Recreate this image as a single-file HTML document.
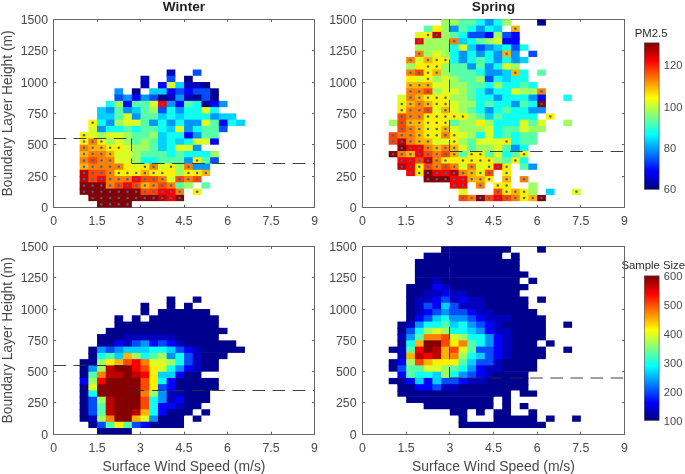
<!DOCTYPE html>
<html><head><meta charset="utf-8"><title>PM2.5 vs wind speed and boundary layer height</title>
<style>
html,body{margin:0;padding:0;background:#fff;}
body{width:685px;height:474px;overflow:hidden;}
svg{display:block;font-family:"Liberation Sans",Arial,Helvetica,sans-serif;}
</style></head><body>
<svg width="685" height="474" viewBox="0 0 685 474">
<rect width="685" height="474" fill="#fff"/>
<defs><linearGradient id="jet" x1="0" y1="0" x2="0" y2="1"><stop offset="0.0000" stop-color="#800000"/><stop offset="0.0625" stop-color="#bf0000"/><stop offset="0.1250" stop-color="#ff0000"/><stop offset="0.1875" stop-color="#ff4000"/><stop offset="0.2500" stop-color="#ff8000"/><stop offset="0.3125" stop-color="#ffbf00"/><stop offset="0.3750" stop-color="#ffff00"/><stop offset="0.4375" stop-color="#bfff40"/><stop offset="0.5000" stop-color="#80ff80"/><stop offset="0.5625" stop-color="#40ffbf"/><stop offset="0.6250" stop-color="#00ffff"/><stop offset="0.6875" stop-color="#00bfff"/><stop offset="0.7500" stop-color="#0080ff"/><stop offset="0.8125" stop-color="#0040ff"/><stop offset="0.8750" stop-color="#0000ff"/><stop offset="0.9375" stop-color="#0000bf"/><stop offset="1.0000" stop-color="#000080"/></linearGradient></defs>
<rect x="644.3" y="42.9" width="14.8" height="146.4" fill="url(#jet)" stroke="#444" stroke-width="0.6"/>
<text x="651.2" y="37.4" text-anchor="middle" font-size="11.35" fill="#2a2a2a">PM2.5</text>
<g font-size="11.1" fill="#484848">
<text x="663.8" y="69.1">120</text>
<text x="663.8" y="110.5">100</text>
<text x="663.8" y="151.9">80</text>
<text x="663.8" y="193.3">60</text>
</g>
<rect x="644.3" y="275.9" width="14.8" height="144.5" fill="url(#jet)" stroke="#444" stroke-width="0.6"/>
<text x="621.4" y="269.3" text-anchor="start" font-size="11.35" fill="#2a2a2a">Sample Size</text>
<g font-size="11.1" fill="#484848">
<text x="663.8" y="280.4">600</text>
<text x="663.8" y="309.25">500</text>
<text x="663.8" y="338.1">400</text>
<text x="663.8" y="366.95">300</text>
<text x="663.8" y="395.8">200</text>
<text x="663.8" y="424.65">100</text>
</g>
<g stroke="#666" stroke-width="1" fill="none">
<rect x="53.5" y="19.5" width="261" height="188"/>
<path d="M97.5 207.4v-2.6M97.5 19.35v2.6M140.5 207.4v-2.6M140.5 19.35v2.6M184.5 207.4v-2.6M184.5 19.35v2.6M227.5 207.4v-2.6M227.5 19.35v2.6M271.5 207.4v-2.6M271.5 19.35v2.6M53.55 176.5h2.6M314.55 176.5h-2.6M53.55 144.5h2.6M314.55 144.5h-2.6M53.55 113.5h2.6M314.55 113.5h-2.6M53.55 82.5h2.6M314.55 82.5h-2.6M53.55 50.5h2.6M314.55 50.5h-2.6"/>
</g>
<g>
<rect x="166.65" y="69.5" width="8.7" height="7.27" fill="#0000bd"/>
<rect x="192.75" y="69.5" width="8.7" height="6.27" fill="#004dff"/>
<rect x="140.55" y="75.77" width="8.7" height="7.27" fill="#0000bd"/>
<rect x="166.65" y="75.77" width="8.7" height="7.27" fill="#004dff"/>
<rect x="184.05" y="75.77" width="8.7" height="7.27" fill="#00008f"/>
<rect x="140.55" y="82.03" width="8.7" height="6.27" fill="#0000bd"/>
<rect x="157.95" y="82.03" width="9.7" height="7.27" fill="#0000ff"/>
<rect x="166.65" y="82.03" width="9.7" height="7.27" fill="#dbff24"/>
<rect x="175.35" y="82.03" width="9.7" height="7.27" fill="#00d1ff"/>
<rect x="184.05" y="82.03" width="18.4" height="7.27" fill="#0000bd"/>
<rect x="201.45" y="82.03" width="8.7" height="7.27" fill="#00008f"/>
<rect x="114.45" y="88.3" width="8.7" height="7.27" fill="#0094ff"/>
<rect x="131.85" y="88.3" width="8.7" height="7.27" fill="#00008f"/>
<rect x="149.25" y="88.3" width="18.4" height="7.27" fill="#00d1ff"/>
<rect x="166.65" y="88.3" width="9.7" height="7.27" fill="#0000ff"/>
<rect x="175.35" y="88.3" width="9.7" height="7.27" fill="#004dff"/>
<rect x="184.05" y="88.3" width="9.7" height="7.27" fill="#0000ff"/>
<rect x="192.75" y="88.3" width="18.4" height="7.27" fill="#004dff"/>
<rect x="210.15" y="88.3" width="8.7" height="7.27" fill="#00008f"/>
<rect x="114.45" y="94.57" width="9.7" height="7.27" fill="#004dff"/>
<rect x="123.15" y="94.57" width="9.7" height="7.27" fill="#0094ff"/>
<rect x="131.85" y="94.57" width="9.7" height="7.27" fill="#0000ff"/>
<rect x="140.55" y="94.57" width="9.7" height="7.27" fill="#0094ff"/>
<rect x="149.25" y="94.57" width="9.7" height="7.27" fill="#004dff"/>
<rect x="157.95" y="94.57" width="9.7" height="7.27" fill="#00008f"/>
<rect x="166.65" y="94.57" width="9.7" height="7.27" fill="#0000bd"/>
<rect x="175.35" y="94.57" width="9.7" height="7.27" fill="#0094ff"/>
<rect x="184.05" y="94.57" width="9.7" height="7.27" fill="#0000bd"/>
<rect x="192.75" y="94.57" width="9.7" height="7.27" fill="#00008f"/>
<rect x="201.45" y="94.57" width="9.7" height="7.27" fill="#004dff"/>
<rect x="210.15" y="94.57" width="8.7" height="7.27" fill="#00008f"/>
<rect x="105.75" y="100.84" width="9.7" height="7.27" fill="#0ffff0"/>
<rect x="114.45" y="100.84" width="9.7" height="7.27" fill="#9eff61"/>
<rect x="123.15" y="100.84" width="9.7" height="7.27" fill="#0000ff"/>
<rect x="131.85" y="100.84" width="18.4" height="7.27" fill="#57ffa8"/>
<rect x="149.25" y="100.84" width="9.7" height="7.27" fill="#dbff24"/>
<rect x="157.95" y="100.84" width="9.7" height="7.27" fill="#fa0000"/>
<rect x="166.65" y="100.84" width="9.7" height="7.27" fill="#0094ff"/>
<rect x="175.35" y="100.84" width="9.7" height="7.27" fill="#0000ff"/>
<rect x="184.05" y="100.84" width="9.7" height="7.27" fill="#57ffa8"/>
<rect x="192.75" y="100.84" width="9.7" height="7.27" fill="#0ffff0"/>
<rect x="201.45" y="100.84" width="9.7" height="7.27" fill="#00008f"/>
<rect x="210.15" y="100.84" width="9.7" height="6.27" fill="#0000ff"/>
<rect x="210.15" y="106.61" width="8.7" height="1.5" fill="#0000ff"/>
<rect x="218.85" y="100.84" width="8.7" height="6.27" fill="#0094ff"/>
<rect x="97.05" y="107.11" width="9.7" height="7.27" fill="#00d1ff"/>
<rect x="105.75" y="107.11" width="9.7" height="7.27" fill="#0094ff"/>
<rect x="114.45" y="107.11" width="9.7" height="7.27" fill="#57ffa8"/>
<rect x="123.15" y="107.11" width="9.7" height="7.27" fill="#0094ff"/>
<rect x="131.85" y="107.11" width="9.7" height="7.27" fill="#00d1ff"/>
<rect x="140.55" y="107.11" width="9.7" height="7.27" fill="#57ffa8"/>
<rect x="149.25" y="107.11" width="9.7" height="7.27" fill="#9eff61"/>
<rect x="157.95" y="107.11" width="9.7" height="7.27" fill="#004dff"/>
<rect x="166.65" y="107.11" width="9.7" height="7.27" fill="#0ffff0"/>
<rect x="175.35" y="107.11" width="9.7" height="7.27" fill="#0094ff"/>
<rect x="184.05" y="107.11" width="18.4" height="7.27" fill="#0ffff0"/>
<rect x="201.45" y="107.11" width="9.7" height="7.27" fill="#dbff24"/>
<rect x="210.15" y="107.11" width="8.7" height="7.27" fill="#0ffff0"/>
<rect x="97.05" y="113.38" width="18.4" height="7.27" fill="#00d1ff"/>
<rect x="114.45" y="113.38" width="9.7" height="7.27" fill="#57ffa8"/>
<rect x="123.15" y="113.38" width="9.7" height="7.27" fill="#dbff24"/>
<rect x="131.85" y="113.38" width="9.7" height="7.27" fill="#0094ff"/>
<rect x="140.55" y="113.38" width="18.4" height="7.27" fill="#57ffa8"/>
<rect x="157.95" y="113.38" width="9.7" height="7.27" fill="#00d1ff"/>
<rect x="166.65" y="113.38" width="9.7" height="7.27" fill="#0ffff0"/>
<rect x="175.35" y="113.38" width="9.7" height="7.27" fill="#00d1ff"/>
<rect x="184.05" y="113.38" width="27.1" height="7.27" fill="#0ffff0"/>
<rect x="210.15" y="113.38" width="9.7" height="7.27" fill="#0094ff"/>
<rect x="218.85" y="113.38" width="17.4" height="7.27" fill="#00d1ff"/>
<rect x="88.35" y="119.64" width="9.7" height="7.27" fill="#fff000"/>
<rect x="97.05" y="119.64" width="9.7" height="7.27" fill="#0ffff0"/>
<rect x="105.75" y="119.64" width="9.7" height="7.27" fill="#0094ff"/>
<rect x="114.45" y="119.64" width="9.7" height="7.27" fill="#9eff61"/>
<rect x="123.15" y="119.64" width="18.4" height="7.27" fill="#dbff24"/>
<rect x="140.55" y="119.64" width="9.7" height="7.27" fill="#57ffa8"/>
<rect x="149.25" y="119.64" width="9.7" height="7.27" fill="#0094ff"/>
<rect x="157.95" y="119.64" width="9.7" height="7.27" fill="#0ffff0"/>
<rect x="166.65" y="119.64" width="9.7" height="7.27" fill="#0094ff"/>
<rect x="175.35" y="119.64" width="9.7" height="7.27" fill="#0ffff0"/>
<rect x="184.05" y="119.64" width="18.4" height="7.27" fill="#0094ff"/>
<rect x="201.45" y="119.64" width="9.7" height="7.27" fill="#dbff24"/>
<rect x="210.15" y="119.64" width="9.7" height="7.27" fill="#57ffa8"/>
<rect x="218.85" y="119.64" width="9.7" height="6.27" fill="#0000ff"/>
<rect x="218.85" y="125.41" width="8.7" height="1.5" fill="#0000ff"/>
<rect x="227.55" y="119.64" width="9.7" height="6.27" fill="#0ffff0"/>
<rect x="236.25" y="119.64" width="8.7" height="6.27" fill="#00d1ff"/>
<rect x="88.35" y="125.91" width="9.7" height="7.27" fill="#dbff24"/>
<rect x="97.05" y="125.91" width="9.7" height="7.27" fill="#0094ff"/>
<rect x="105.75" y="125.91" width="18.4" height="7.27" fill="#0ffff0"/>
<rect x="123.15" y="125.91" width="9.7" height="7.27" fill="#57ffa8"/>
<rect x="131.85" y="125.91" width="9.7" height="7.27" fill="#0ffff0"/>
<rect x="140.55" y="125.91" width="18.4" height="7.27" fill="#57ffa8"/>
<rect x="157.95" y="125.91" width="9.7" height="7.27" fill="#0ffff0"/>
<rect x="166.65" y="125.91" width="9.7" height="7.27" fill="#00d1ff"/>
<rect x="175.35" y="125.91" width="9.7" height="7.27" fill="#dbff24"/>
<rect x="184.05" y="125.91" width="9.7" height="7.27" fill="#0094ff"/>
<rect x="192.75" y="125.91" width="9.7" height="7.27" fill="#0ffff0"/>
<rect x="201.45" y="125.91" width="18.4" height="6.27" fill="#57ffa8"/>
<rect x="201.45" y="131.68" width="17.4" height="1.5" fill="#57ffa8"/>
<rect x="218.85" y="125.91" width="8.7" height="6.27" fill="#004dff"/>
<rect x="79.65" y="132.18" width="9.7" height="7.27" fill="#fff000"/>
<rect x="88.35" y="132.18" width="9.7" height="7.27" fill="#dbff24"/>
<rect x="97.05" y="132.18" width="9.7" height="7.27" fill="#9eff61"/>
<rect x="105.75" y="132.18" width="18.4" height="7.27" fill="#dbff24"/>
<rect x="123.15" y="132.18" width="9.7" height="7.27" fill="#9eff61"/>
<rect x="131.85" y="132.18" width="18.4" height="7.27" fill="#57ffa8"/>
<rect x="149.25" y="132.18" width="9.7" height="7.27" fill="#9eff61"/>
<rect x="157.95" y="132.18" width="9.7" height="7.27" fill="#00d1ff"/>
<rect x="166.65" y="132.18" width="18.4" height="7.27" fill="#0ffff0"/>
<rect x="184.05" y="132.18" width="9.7" height="7.27" fill="#0000ff"/>
<rect x="192.75" y="132.18" width="9.7" height="7.27" fill="#0094ff"/>
<rect x="201.45" y="132.18" width="17.4" height="7.27" fill="#57ffa8"/>
<rect x="79.65" y="138.45" width="9.7" height="7.27" fill="#fff000"/>
<rect x="88.35" y="138.45" width="9.7" height="7.27" fill="#ff8000"/>
<rect x="97.05" y="138.45" width="9.7" height="7.27" fill="#fff000"/>
<rect x="105.75" y="138.45" width="9.7" height="7.27" fill="#9eff61"/>
<rect x="114.45" y="138.45" width="9.7" height="7.27" fill="#dbff24"/>
<rect x="123.15" y="138.45" width="9.7" height="7.27" fill="#9eff61"/>
<rect x="131.85" y="138.45" width="9.7" height="7.27" fill="#57ffa8"/>
<rect x="140.55" y="138.45" width="9.7" height="7.27" fill="#9eff61"/>
<rect x="149.25" y="138.45" width="9.7" height="7.27" fill="#57ffa8"/>
<rect x="157.95" y="138.45" width="9.7" height="7.27" fill="#00d1ff"/>
<rect x="166.65" y="138.45" width="9.7" height="7.27" fill="#0ffff0"/>
<rect x="175.35" y="138.45" width="9.7" height="7.27" fill="#00d1ff"/>
<rect x="184.05" y="138.45" width="9.7" height="7.27" fill="#0ffff0"/>
<rect x="192.75" y="138.45" width="9.7" height="6.27" fill="#dbff24"/>
<rect x="192.75" y="144.22" width="8.7" height="1.5" fill="#dbff24"/>
<rect x="201.45" y="138.45" width="9.7" height="6.27" fill="#dbff24"/>
<rect x="210.15" y="138.45" width="8.7" height="6.27" fill="#0000ff"/>
<rect x="79.65" y="144.72" width="9.7" height="7.27" fill="#ff8000"/>
<rect x="88.35" y="144.72" width="18.4" height="7.27" fill="#ffb300"/>
<rect x="105.75" y="144.72" width="18.4" height="7.27" fill="#fff000"/>
<rect x="123.15" y="144.72" width="9.7" height="7.27" fill="#dbff24"/>
<rect x="131.85" y="144.72" width="18.4" height="7.27" fill="#9eff61"/>
<rect x="149.25" y="144.72" width="9.7" height="7.27" fill="#57ffa8"/>
<rect x="157.95" y="144.72" width="9.7" height="7.27" fill="#00d1ff"/>
<rect x="166.65" y="144.72" width="9.7" height="7.27" fill="#0ffff0"/>
<rect x="175.35" y="144.72" width="18.4" height="7.27" fill="#dbff24"/>
<rect x="192.75" y="144.72" width="8.7" height="7.27" fill="#0094ff"/>
<rect x="79.65" y="150.99" width="9.7" height="7.27" fill="#ffb300"/>
<rect x="88.35" y="150.99" width="18.4" height="7.27" fill="#ff8000"/>
<rect x="105.75" y="150.99" width="9.7" height="7.27" fill="#ffb300"/>
<rect x="114.45" y="150.99" width="18.4" height="7.27" fill="#dbff24"/>
<rect x="131.85" y="150.99" width="9.7" height="7.27" fill="#9eff61"/>
<rect x="140.55" y="150.99" width="27.1" height="7.27" fill="#57ffa8"/>
<rect x="166.65" y="150.99" width="9.7" height="7.27" fill="#0ffff0"/>
<rect x="175.35" y="150.99" width="9.7" height="7.27" fill="#57ffa8"/>
<rect x="184.05" y="150.99" width="27.1" height="7.27" fill="#0ffff0"/>
<rect x="210.15" y="150.99" width="8.7" height="7.27" fill="#9eff61"/>
<rect x="79.65" y="157.25" width="9.7" height="7.27" fill="#ff8000"/>
<rect x="88.35" y="157.25" width="9.7" height="7.27" fill="#ff4700"/>
<rect x="97.05" y="157.25" width="18.4" height="7.27" fill="#ff8000"/>
<rect x="114.45" y="157.25" width="18.4" height="7.27" fill="#dbff24"/>
<rect x="131.85" y="157.25" width="9.7" height="7.27" fill="#9eff61"/>
<rect x="140.55" y="157.25" width="18.4" height="7.27" fill="#0ffff0"/>
<rect x="157.95" y="157.25" width="27.1" height="7.27" fill="#57ffa8"/>
<rect x="184.05" y="157.25" width="9.7" height="7.27" fill="#0094ff"/>
<rect x="192.75" y="157.25" width="9.7" height="7.27" fill="#fff000"/>
<rect x="201.45" y="157.25" width="9.7" height="6.27" fill="#57ffa8"/>
<rect x="201.45" y="163.02" width="8.7" height="1.5" fill="#57ffa8"/>
<rect x="210.15" y="157.25" width="8.7" height="6.27" fill="#004dff"/>
<rect x="79.65" y="163.52" width="9.7" height="7.27" fill="#ffb300"/>
<rect x="88.35" y="163.52" width="35.8" height="7.27" fill="#ff8000"/>
<rect x="123.15" y="163.52" width="9.7" height="7.27" fill="#fff000"/>
<rect x="131.85" y="163.52" width="9.7" height="7.27" fill="#dbff24"/>
<rect x="140.55" y="163.52" width="9.7" height="7.27" fill="#fff000"/>
<rect x="149.25" y="163.52" width="9.7" height="7.27" fill="#ff8000"/>
<rect x="157.95" y="163.52" width="9.7" height="7.27" fill="#dbff24"/>
<rect x="166.65" y="163.52" width="9.7" height="7.27" fill="#fff000"/>
<rect x="175.35" y="163.52" width="9.7" height="7.27" fill="#9eff61"/>
<rect x="184.05" y="163.52" width="9.7" height="7.27" fill="#ff8000"/>
<rect x="192.75" y="163.52" width="17.4" height="7.27" fill="#0094ff"/>
<rect x="79.65" y="169.79" width="9.7" height="7.27" fill="#bd0000"/>
<rect x="88.35" y="169.79" width="18.4" height="7.27" fill="#ff4700"/>
<rect x="105.75" y="169.79" width="9.7" height="7.27" fill="#ff8000"/>
<rect x="114.45" y="169.79" width="27.1" height="7.27" fill="#fff000"/>
<rect x="140.55" y="169.79" width="9.7" height="7.27" fill="#ffb300"/>
<rect x="149.25" y="169.79" width="27.1" height="7.27" fill="#fff000"/>
<rect x="175.35" y="169.79" width="9.7" height="7.27" fill="#9eff61"/>
<rect x="184.05" y="169.79" width="18.4" height="6.27" fill="#fff000"/>
<rect x="184.05" y="175.56" width="17.4" height="1.5" fill="#fff000"/>
<rect x="201.45" y="169.79" width="8.7" height="6.27" fill="#ffb300"/>
<rect x="79.65" y="176.06" width="9.7" height="7.27" fill="#bd0000"/>
<rect x="88.35" y="176.06" width="9.7" height="7.27" fill="#ff4700"/>
<rect x="97.05" y="176.06" width="9.7" height="7.27" fill="#fa0000"/>
<rect x="105.75" y="176.06" width="27.1" height="7.27" fill="#ff8000"/>
<rect x="131.85" y="176.06" width="9.7" height="7.27" fill="#fa0000"/>
<rect x="140.55" y="176.06" width="18.4" height="7.27" fill="#ff4700"/>
<rect x="157.95" y="176.06" width="9.7" height="7.27" fill="#ff8000"/>
<rect x="166.65" y="176.06" width="9.7" height="7.27" fill="#dbff24"/>
<rect x="175.35" y="176.06" width="9.7" height="7.27" fill="#ff4700"/>
<rect x="184.05" y="176.06" width="9.7" height="6.27" fill="#ff8000"/>
<rect x="184.05" y="181.83" width="8.7" height="1.5" fill="#ff8000"/>
<rect x="192.75" y="176.06" width="8.7" height="6.27" fill="#ff4700"/>
<rect x="79.65" y="182.33" width="27.1" height="7.27" fill="#850000"/>
<rect x="105.75" y="182.33" width="9.7" height="7.27" fill="#ff8000"/>
<rect x="114.45" y="182.33" width="9.7" height="7.27" fill="#ff4700"/>
<rect x="123.15" y="182.33" width="9.7" height="7.27" fill="#fa0000"/>
<rect x="131.85" y="182.33" width="9.7" height="7.27" fill="#ff4700"/>
<rect x="140.55" y="182.33" width="9.7" height="7.27" fill="#ffb300"/>
<rect x="149.25" y="182.33" width="9.7" height="7.27" fill="#ff8000"/>
<rect x="157.95" y="182.33" width="9.7" height="7.27" fill="#ff4700"/>
<rect x="166.65" y="182.33" width="9.7" height="7.27" fill="#ff8000"/>
<rect x="175.35" y="182.33" width="9.7" height="6.27" fill="#57ffa8"/>
<rect x="175.35" y="188.1" width="8.7" height="1.5" fill="#57ffa8"/>
<rect x="184.05" y="182.33" width="8.7" height="6.27" fill="#9eff61"/>
<rect x="201.45" y="182.33" width="8.7" height="6.27" fill="#57ffa8"/>
<rect x="79.65" y="188.59" width="9.7" height="6.27" fill="#850000"/>
<rect x="88.35" y="188.59" width="53.2" height="7.27" fill="#850000"/>
<rect x="140.55" y="188.59" width="18.4" height="7.27" fill="#ff4700"/>
<rect x="157.95" y="188.59" width="18.4" height="7.27" fill="#fa0000"/>
<rect x="175.35" y="188.59" width="8.7" height="7.27" fill="#ff8000"/>
<rect x="192.75" y="188.59" width="8.7" height="6.27" fill="#fff000"/>
<rect x="88.35" y="194.86" width="9.7" height="6.27" fill="#850000"/>
<rect x="97.05" y="194.86" width="35.8" height="6.27" fill="#850000"/>
<rect x="97.05" y="200.63" width="34.8" height="1.5" fill="#850000"/>
<rect x="131.85" y="194.86" width="27.1" height="6.27" fill="#850000"/>
<rect x="157.95" y="194.86" width="9.7" height="6.27" fill="#bd0000"/>
<rect x="166.65" y="194.86" width="9.7" height="6.27" fill="#fa0000"/>
<rect x="175.35" y="194.86" width="8.7" height="6.27" fill="#850000"/>
<rect x="97.05" y="201.13" width="34.8" height="6.27" fill="#850000"/>
</g>
<g fill="#3a6796">
<circle cx="101.4" cy="204.27" r="1.25"/>
<circle cx="110.1" cy="204.27" r="1.25"/>
<circle cx="118.8" cy="204.27" r="1.25"/>
<circle cx="127.5" cy="204.27" r="1.25"/>
<circle cx="92.7" cy="198" r="1.25"/>
<circle cx="101.4" cy="198" r="1.25"/>
<circle cx="110.1" cy="198" r="1.25"/>
<circle cx="118.8" cy="198" r="1.25"/>
<circle cx="127.5" cy="198" r="1.25"/>
<circle cx="136.2" cy="198" r="1.25"/>
<circle cx="144.9" cy="198" r="1.25"/>
<circle cx="153.6" cy="198" r="1.25"/>
<circle cx="162.3" cy="198" r="1.25"/>
<circle cx="171" cy="198" r="1.25"/>
<circle cx="179.7" cy="198" r="1.25"/>
<circle cx="84" cy="191.73" r="1.25"/>
<circle cx="92.7" cy="191.73" r="1.25"/>
<circle cx="101.4" cy="191.73" r="1.25"/>
<circle cx="110.1" cy="191.73" r="1.25"/>
<circle cx="118.8" cy="191.73" r="1.25"/>
<circle cx="127.5" cy="191.73" r="1.25"/>
<circle cx="136.2" cy="191.73" r="1.25"/>
<circle cx="144.9" cy="191.73" r="1.25"/>
<circle cx="153.6" cy="191.73" r="1.25"/>
<circle cx="162.3" cy="191.73" r="1.25"/>
<circle cx="171" cy="191.73" r="1.25"/>
<circle cx="179.7" cy="191.73" r="1.25"/>
<circle cx="197.1" cy="191.73" r="1.25"/>
<circle cx="84" cy="185.46" r="1.25"/>
<circle cx="92.7" cy="185.46" r="1.25"/>
<circle cx="101.4" cy="185.46" r="1.25"/>
<circle cx="110.1" cy="185.46" r="1.25"/>
<circle cx="118.8" cy="185.46" r="1.25"/>
<circle cx="127.5" cy="185.46" r="1.25"/>
<circle cx="136.2" cy="185.46" r="1.25"/>
<circle cx="144.9" cy="185.46" r="1.25"/>
<circle cx="153.6" cy="185.46" r="1.25"/>
<circle cx="162.3" cy="185.46" r="1.25"/>
<circle cx="171" cy="185.46" r="1.25"/>
<circle cx="84" cy="179.19" r="1.25"/>
<circle cx="92.7" cy="179.19" r="1.25"/>
<circle cx="101.4" cy="179.19" r="1.25"/>
<circle cx="110.1" cy="179.19" r="1.25"/>
<circle cx="118.8" cy="179.19" r="1.25"/>
<circle cx="127.5" cy="179.19" r="1.25"/>
<circle cx="136.2" cy="179.19" r="1.25"/>
<circle cx="144.9" cy="179.19" r="1.25"/>
<circle cx="153.6" cy="179.19" r="1.25"/>
<circle cx="162.3" cy="179.19" r="1.25"/>
<circle cx="179.7" cy="179.19" r="1.25"/>
<circle cx="188.4" cy="179.19" r="1.25"/>
<circle cx="197.1" cy="179.19" r="1.25"/>
<circle cx="84" cy="172.92" r="1.25"/>
<circle cx="92.7" cy="172.92" r="1.25"/>
<circle cx="101.4" cy="172.92" r="1.25"/>
<circle cx="110.1" cy="172.92" r="1.25"/>
<circle cx="118.8" cy="172.92" r="1.25"/>
<circle cx="127.5" cy="172.92" r="1.25"/>
<circle cx="136.2" cy="172.92" r="1.25"/>
<circle cx="144.9" cy="172.92" r="1.25"/>
<circle cx="153.6" cy="172.92" r="1.25"/>
<circle cx="162.3" cy="172.92" r="1.25"/>
<circle cx="188.4" cy="172.92" r="1.25"/>
<circle cx="197.1" cy="172.92" r="1.25"/>
<circle cx="205.8" cy="172.92" r="1.25"/>
<circle cx="84" cy="166.66" r="1.25"/>
<circle cx="92.7" cy="166.66" r="1.25"/>
<circle cx="101.4" cy="166.66" r="1.25"/>
<circle cx="110.1" cy="166.66" r="1.25"/>
<circle cx="118.8" cy="166.66" r="1.25"/>
<circle cx="144.9" cy="166.66" r="1.25"/>
<circle cx="153.6" cy="166.66" r="1.25"/>
<circle cx="171" cy="166.66" r="1.25"/>
<circle cx="188.4" cy="166.66" r="1.25"/>
<circle cx="84" cy="160.39" r="1.25"/>
<circle cx="92.7" cy="160.39" r="1.25"/>
<circle cx="101.4" cy="160.39" r="1.25"/>
<circle cx="110.1" cy="160.39" r="1.25"/>
<circle cx="197.1" cy="160.39" r="1.25"/>
<circle cx="84" cy="154.12" r="1.25"/>
<circle cx="92.7" cy="154.12" r="1.25"/>
<circle cx="101.4" cy="154.12" r="1.25"/>
<circle cx="110.1" cy="154.12" r="1.25"/>
<circle cx="84" cy="147.85" r="1.25"/>
<circle cx="92.7" cy="147.85" r="1.25"/>
<circle cx="101.4" cy="147.85" r="1.25"/>
<circle cx="110.1" cy="147.85" r="1.25"/>
<circle cx="118.8" cy="147.85" r="1.25"/>
<circle cx="84" cy="141.58" r="1.25"/>
<circle cx="92.7" cy="141.58" r="1.25"/>
<circle cx="101.4" cy="141.58" r="1.25"/>
<circle cx="84" cy="135.31" r="1.25"/>
<circle cx="92.7" cy="122.78" r="1.25"/>
<circle cx="162.3" cy="103.97" r="1.25"/>
</g>
<g stroke="#2e2e2e" stroke-width="0.9" stroke-dasharray="12.6 7.5" fill="none">
<line x1="53.55" y1="138.5" x2="131.85" y2="138.5"/>
<line x1="131.5" y1="138.45" x2="131.5" y2="163.52"/>
<line x1="131.85" y1="163.5" x2="314.55" y2="163.5"/>
</g>
<g font-size="12.3" fill="#484848">
<text x="53.55" y="225.4" text-anchor="middle">0</text>
<text x="97.05" y="225.4" text-anchor="middle">1.5</text>
<text x="140.55" y="225.4" text-anchor="middle">3</text>
<text x="184.05" y="225.4" text-anchor="middle">4.5</text>
<text x="227.55" y="225.4" text-anchor="middle">6</text>
<text x="271.05" y="225.4" text-anchor="middle">7.5</text>
<text x="314.55" y="225.4" text-anchor="middle">9</text>
<text x="48.05" y="211.9" text-anchor="end">0</text>
<text x="48.05" y="180.56" text-anchor="end">250</text>
<text x="48.05" y="149.22" text-anchor="end">500</text>
<text x="48.05" y="117.88" text-anchor="end">750</text>
<text x="48.05" y="86.53" text-anchor="end">1000</text>
<text x="48.05" y="55.19" text-anchor="end">1250</text>
<text x="48.05" y="23.85" text-anchor="end">1500</text>
</g>
<text x="183.95" y="11.45" text-anchor="middle" font-size="13.65" font-weight="bold" fill="#222">Winter</text>
<text transform="translate(11.8 113.38) rotate(-90)" text-anchor="middle" font-size="13.85" fill="#484848">Boundary Layer Height (m)</text>
<g stroke="#666" stroke-width="1" fill="none">
<rect x="362.5" y="19.5" width="262" height="188"/>
<path d="M406.5 207.45v-2.6M406.5 19.35v2.6M449.5 207.45v-2.6M449.5 19.35v2.6M493.5 207.45v-2.6M493.5 19.35v2.6M537.5 207.45v-2.6M537.5 19.35v2.6M580.5 207.45v-2.6M580.5 19.35v2.6M362.5 176.5h2.6M624.5 176.5h-2.6M362.5 144.5h2.6M624.5 144.5h-2.6M362.5 113.5h2.6M624.5 113.5h-2.6M362.5 82.5h2.6M624.5 82.5h-2.6M362.5 50.5h2.6M624.5 50.5h-2.6"/>
</g>
<g>
<rect x="441.1" y="19.35" width="18.47" height="7.27" fill="#9eff61"/>
<rect x="458.57" y="19.35" width="18.47" height="7.27" fill="#57ffa8"/>
<rect x="476.03" y="19.35" width="9.73" height="7.27" fill="#0ffff0"/>
<rect x="484.77" y="19.35" width="9.73" height="7.27" fill="#0094ff"/>
<rect x="493.5" y="19.35" width="9.73" height="6.27" fill="#0ffff0"/>
<rect x="493.5" y="25.12" width="8.73" height="1.5" fill="#0ffff0"/>
<rect x="502.23" y="19.35" width="8.73" height="6.27" fill="#9eff61"/>
<rect x="537.17" y="19.35" width="8.73" height="6.27" fill="#00008f"/>
<rect x="423.63" y="25.62" width="9.73" height="7.27" fill="#57ffa8"/>
<rect x="432.37" y="25.62" width="9.73" height="7.27" fill="#fff000"/>
<rect x="441.1" y="25.62" width="9.73" height="7.27" fill="#9eff61"/>
<rect x="449.83" y="25.62" width="9.73" height="7.27" fill="#0094ff"/>
<rect x="458.57" y="25.62" width="9.73" height="7.27" fill="#57ffa8"/>
<rect x="467.3" y="25.62" width="9.73" height="7.27" fill="#0ffff0"/>
<rect x="476.03" y="25.62" width="9.73" height="7.27" fill="#0094ff"/>
<rect x="484.77" y="25.62" width="9.73" height="7.27" fill="#0ffff0"/>
<rect x="493.5" y="25.62" width="8.73" height="7.27" fill="#00d1ff"/>
<rect x="510.97" y="25.62" width="8.73" height="7.27" fill="#ffb300"/>
<rect x="414.9" y="31.89" width="9.73" height="7.27" fill="#dbff24"/>
<rect x="423.63" y="31.89" width="9.73" height="7.27" fill="#fff000"/>
<rect x="432.37" y="31.89" width="9.73" height="7.27" fill="#bd0000"/>
<rect x="441.1" y="31.89" width="9.73" height="7.27" fill="#9eff61"/>
<rect x="449.83" y="31.89" width="9.73" height="7.27" fill="#57ffa8"/>
<rect x="458.57" y="31.89" width="9.73" height="7.27" fill="#0ffff0"/>
<rect x="467.3" y="31.89" width="18.47" height="7.27" fill="#004dff"/>
<rect x="484.77" y="31.89" width="9.73" height="7.27" fill="#0000ff"/>
<rect x="493.5" y="31.89" width="9.73" height="7.27" fill="#9eff61"/>
<rect x="502.23" y="31.89" width="9.73" height="7.27" fill="#004dff"/>
<rect x="510.97" y="31.89" width="8.73" height="7.27" fill="#0000ff"/>
<rect x="414.9" y="38.16" width="9.73" height="7.27" fill="#fa0000"/>
<rect x="423.63" y="38.16" width="27.2" height="7.27" fill="#9eff61"/>
<rect x="449.83" y="38.16" width="9.73" height="7.27" fill="#ff8000"/>
<rect x="458.57" y="38.16" width="9.73" height="7.27" fill="#00d1ff"/>
<rect x="467.3" y="38.16" width="9.73" height="7.27" fill="#0ffff0"/>
<rect x="476.03" y="38.16" width="9.73" height="7.27" fill="#57ffa8"/>
<rect x="484.77" y="38.16" width="9.73" height="7.27" fill="#9eff61"/>
<rect x="493.5" y="38.16" width="9.73" height="7.27" fill="#dbff24"/>
<rect x="502.23" y="38.16" width="17.47" height="7.27" fill="#0000ff"/>
<rect x="414.9" y="44.43" width="35.93" height="7.27" fill="#9eff61"/>
<rect x="449.83" y="44.43" width="9.73" height="7.27" fill="#0ffff0"/>
<rect x="458.57" y="44.43" width="9.73" height="7.27" fill="#dbff24"/>
<rect x="467.3" y="44.43" width="9.73" height="7.27" fill="#00d1ff"/>
<rect x="476.03" y="44.43" width="9.73" height="7.27" fill="#004dff"/>
<rect x="484.77" y="44.43" width="9.73" height="7.27" fill="#0094ff"/>
<rect x="493.5" y="44.43" width="9.73" height="7.27" fill="#00d1ff"/>
<rect x="502.23" y="44.43" width="9.73" height="7.27" fill="#0ffff0"/>
<rect x="510.97" y="44.43" width="9.73" height="6.27" fill="#004dff"/>
<rect x="510.97" y="50.2" width="8.73" height="1.5" fill="#004dff"/>
<rect x="519.7" y="44.43" width="8.73" height="6.27" fill="#0ffff0"/>
<rect x="414.9" y="50.7" width="9.73" height="7.27" fill="#ff8000"/>
<rect x="423.63" y="50.7" width="9.73" height="7.27" fill="#9eff61"/>
<rect x="432.37" y="50.7" width="9.73" height="7.27" fill="#dbff24"/>
<rect x="441.1" y="50.7" width="9.73" height="7.27" fill="#9eff61"/>
<rect x="449.83" y="50.7" width="9.73" height="7.27" fill="#0ffff0"/>
<rect x="458.57" y="50.7" width="9.73" height="7.27" fill="#0094ff"/>
<rect x="467.3" y="50.7" width="9.73" height="7.27" fill="#0ffff0"/>
<rect x="476.03" y="50.7" width="9.73" height="7.27" fill="#0094ff"/>
<rect x="484.77" y="50.7" width="9.73" height="7.27" fill="#0ffff0"/>
<rect x="493.5" y="50.7" width="9.73" height="7.27" fill="#0094ff"/>
<rect x="502.23" y="50.7" width="9.73" height="7.27" fill="#ffb300"/>
<rect x="510.97" y="50.7" width="8.73" height="7.27" fill="#0094ff"/>
<rect x="528.43" y="50.7" width="8.73" height="6.27" fill="#004dff"/>
<rect x="406.17" y="56.97" width="9.73" height="7.27" fill="#ff8000"/>
<rect x="414.9" y="56.97" width="9.73" height="7.27" fill="#dbff24"/>
<rect x="423.63" y="56.97" width="9.73" height="7.27" fill="#ffb300"/>
<rect x="432.37" y="56.97" width="18.47" height="7.27" fill="#fff000"/>
<rect x="449.83" y="56.97" width="9.73" height="7.27" fill="#0ffff0"/>
<rect x="458.57" y="56.97" width="9.73" height="7.27" fill="#0094ff"/>
<rect x="467.3" y="56.97" width="9.73" height="7.27" fill="#0ffff0"/>
<rect x="476.03" y="56.97" width="9.73" height="7.27" fill="#57ffa8"/>
<rect x="484.77" y="56.97" width="9.73" height="7.27" fill="#0ffff0"/>
<rect x="493.5" y="56.97" width="9.73" height="7.27" fill="#0094ff"/>
<rect x="502.23" y="56.97" width="9.73" height="7.27" fill="#0ffff0"/>
<rect x="510.97" y="56.97" width="9.73" height="6.27" fill="#0094ff"/>
<rect x="510.97" y="62.74" width="8.73" height="1.5" fill="#0094ff"/>
<rect x="519.7" y="56.97" width="8.73" height="6.27" fill="#00d1ff"/>
<rect x="406.17" y="63.24" width="9.73" height="7.27" fill="#9eff61"/>
<rect x="414.9" y="63.24" width="27.2" height="7.27" fill="#fff000"/>
<rect x="441.1" y="63.24" width="9.73" height="7.27" fill="#9eff61"/>
<rect x="449.83" y="63.24" width="18.47" height="7.27" fill="#57ffa8"/>
<rect x="467.3" y="63.24" width="9.73" height="7.27" fill="#0094ff"/>
<rect x="476.03" y="63.24" width="9.73" height="7.27" fill="#57ffa8"/>
<rect x="484.77" y="63.24" width="9.73" height="7.27" fill="#0094ff"/>
<rect x="493.5" y="63.24" width="9.73" height="7.27" fill="#0ffff0"/>
<rect x="502.23" y="63.24" width="9.73" height="7.27" fill="#dbff24"/>
<rect x="510.97" y="63.24" width="8.73" height="7.27" fill="#9eff61"/>
<rect x="406.17" y="69.51" width="9.73" height="7.27" fill="#ff8000"/>
<rect x="414.9" y="69.51" width="9.73" height="7.27" fill="#ff4700"/>
<rect x="423.63" y="69.51" width="9.73" height="7.27" fill="#fff000"/>
<rect x="432.37" y="69.51" width="9.73" height="7.27" fill="#ffb300"/>
<rect x="441.1" y="69.51" width="9.73" height="7.27" fill="#9eff61"/>
<rect x="449.83" y="69.51" width="27.2" height="7.27" fill="#57ffa8"/>
<rect x="476.03" y="69.51" width="9.73" height="7.27" fill="#0ffff0"/>
<rect x="484.77" y="69.51" width="18.47" height="7.27" fill="#0094ff"/>
<rect x="502.23" y="69.51" width="9.73" height="7.27" fill="#00d1ff"/>
<rect x="510.97" y="69.51" width="9.73" height="7.27" fill="#ffb300"/>
<rect x="519.7" y="69.51" width="8.73" height="7.27" fill="#0ffff0"/>
<rect x="537.17" y="69.51" width="8.73" height="6.27" fill="#57ffa8"/>
<rect x="406.17" y="75.78" width="9.73" height="7.27" fill="#fff000"/>
<rect x="414.9" y="75.78" width="9.73" height="7.27" fill="#dbff24"/>
<rect x="423.63" y="75.78" width="9.73" height="7.27" fill="#fff000"/>
<rect x="432.37" y="75.78" width="9.73" height="7.27" fill="#9eff61"/>
<rect x="441.1" y="75.78" width="9.73" height="7.27" fill="#dbff24"/>
<rect x="449.83" y="75.78" width="9.73" height="7.27" fill="#9eff61"/>
<rect x="458.57" y="75.78" width="18.47" height="7.27" fill="#57ffa8"/>
<rect x="476.03" y="75.78" width="9.73" height="7.27" fill="#9eff61"/>
<rect x="484.77" y="75.78" width="9.73" height="7.27" fill="#004dff"/>
<rect x="493.5" y="75.78" width="9.73" height="7.27" fill="#0ffff0"/>
<rect x="502.23" y="75.78" width="9.73" height="7.27" fill="#00d1ff"/>
<rect x="510.97" y="75.78" width="17.47" height="7.27" fill="#0ffff0"/>
<rect x="406.17" y="82.05" width="27.2" height="7.27" fill="#ffb300"/>
<rect x="432.37" y="82.05" width="18.47" height="7.27" fill="#dbff24"/>
<rect x="449.83" y="82.05" width="18.47" height="7.27" fill="#9eff61"/>
<rect x="467.3" y="82.05" width="18.47" height="7.27" fill="#57ffa8"/>
<rect x="484.77" y="82.05" width="9.73" height="7.27" fill="#0ffff0"/>
<rect x="493.5" y="82.05" width="9.73" height="7.27" fill="#9eff61"/>
<rect x="502.23" y="82.05" width="18.47" height="7.27" fill="#0ffff0"/>
<rect x="519.7" y="82.05" width="9.73" height="7.27" fill="#57ffa8"/>
<rect x="528.43" y="82.05" width="8.73" height="7.27" fill="#0ffff0"/>
<rect x="406.17" y="88.32" width="18.47" height="7.27" fill="#ff8000"/>
<rect x="423.63" y="88.32" width="9.73" height="7.27" fill="#ff4700"/>
<rect x="432.37" y="88.32" width="9.73" height="7.27" fill="#9eff61"/>
<rect x="441.1" y="88.32" width="18.47" height="7.27" fill="#dbff24"/>
<rect x="458.57" y="88.32" width="9.73" height="7.27" fill="#9eff61"/>
<rect x="467.3" y="88.32" width="9.73" height="7.27" fill="#57ffa8"/>
<rect x="476.03" y="88.32" width="9.73" height="7.27" fill="#0ffff0"/>
<rect x="484.77" y="88.32" width="9.73" height="7.27" fill="#0094ff"/>
<rect x="493.5" y="88.32" width="18.47" height="7.27" fill="#0ffff0"/>
<rect x="510.97" y="88.32" width="9.73" height="7.27" fill="#dbff24"/>
<rect x="519.7" y="88.32" width="18.47" height="7.27" fill="#9eff61"/>
<rect x="537.17" y="88.32" width="8.73" height="7.27" fill="#ff8000"/>
<rect x="397.43" y="94.59" width="9.73" height="7.27" fill="#dbff24"/>
<rect x="406.17" y="94.59" width="9.73" height="7.27" fill="#ff8000"/>
<rect x="414.9" y="94.59" width="9.73" height="7.27" fill="#ffb300"/>
<rect x="423.63" y="94.59" width="27.2" height="7.27" fill="#fff000"/>
<rect x="449.83" y="94.59" width="18.47" height="7.27" fill="#9eff61"/>
<rect x="467.3" y="94.59" width="9.73" height="7.27" fill="#57ffa8"/>
<rect x="476.03" y="94.59" width="18.47" height="7.27" fill="#0ffff0"/>
<rect x="493.5" y="94.59" width="9.73" height="7.27" fill="#0094ff"/>
<rect x="502.23" y="94.59" width="27.2" height="7.27" fill="#0ffff0"/>
<rect x="528.43" y="94.59" width="9.73" height="7.27" fill="#0094ff"/>
<rect x="537.17" y="94.59" width="8.73" height="7.27" fill="#0000ff"/>
<rect x="563.37" y="94.59" width="8.73" height="6.27" fill="#0ffff0"/>
<rect x="397.43" y="100.86" width="9.73" height="7.27" fill="#fff000"/>
<rect x="406.17" y="100.86" width="9.73" height="7.27" fill="#ffb300"/>
<rect x="414.9" y="100.86" width="9.73" height="7.27" fill="#ff8000"/>
<rect x="423.63" y="100.86" width="9.73" height="7.27" fill="#ffb300"/>
<rect x="432.37" y="100.86" width="18.47" height="7.27" fill="#fff000"/>
<rect x="449.83" y="100.86" width="9.73" height="7.27" fill="#dbff24"/>
<rect x="458.57" y="100.86" width="18.47" height="7.27" fill="#9eff61"/>
<rect x="476.03" y="100.86" width="9.73" height="7.27" fill="#0ffff0"/>
<rect x="484.77" y="100.86" width="9.73" height="7.27" fill="#57ffa8"/>
<rect x="493.5" y="100.86" width="18.47" height="7.27" fill="#0ffff0"/>
<rect x="510.97" y="100.86" width="9.73" height="7.27" fill="#0094ff"/>
<rect x="519.7" y="100.86" width="9.73" height="7.27" fill="#57ffa8"/>
<rect x="528.43" y="100.86" width="9.73" height="7.27" fill="#0ffff0"/>
<rect x="537.17" y="100.86" width="8.73" height="7.27" fill="#850000"/>
<rect x="397.43" y="107.13" width="9.73" height="7.27" fill="#fff000"/>
<rect x="406.17" y="107.13" width="18.47" height="7.27" fill="#ff8000"/>
<rect x="423.63" y="107.13" width="9.73" height="7.27" fill="#ff4700"/>
<rect x="432.37" y="107.13" width="9.73" height="7.27" fill="#dbff24"/>
<rect x="441.1" y="107.13" width="9.73" height="7.27" fill="#ffb300"/>
<rect x="449.83" y="107.13" width="9.73" height="7.27" fill="#dbff24"/>
<rect x="458.57" y="107.13" width="9.73" height="7.27" fill="#9eff61"/>
<rect x="467.3" y="107.13" width="9.73" height="7.27" fill="#57ffa8"/>
<rect x="476.03" y="107.13" width="9.73" height="7.27" fill="#0ffff0"/>
<rect x="484.77" y="107.13" width="9.73" height="7.27" fill="#0094ff"/>
<rect x="493.5" y="107.13" width="9.73" height="7.27" fill="#0ffff0"/>
<rect x="502.23" y="107.13" width="9.73" height="7.27" fill="#57ffa8"/>
<rect x="510.97" y="107.13" width="18.47" height="7.27" fill="#0ffff0"/>
<rect x="528.43" y="107.13" width="9.73" height="6.27" fill="#0094ff"/>
<rect x="528.43" y="112.9" width="8.73" height="1.5" fill="#0094ff"/>
<rect x="537.17" y="107.13" width="8.73" height="6.27" fill="#0094ff"/>
<rect x="397.43" y="113.4" width="9.73" height="7.27" fill="#ff4700"/>
<rect x="406.17" y="113.4" width="18.47" height="7.27" fill="#ff8000"/>
<rect x="423.63" y="113.4" width="44.67" height="7.27" fill="#fff000"/>
<rect x="467.3" y="113.4" width="9.73" height="7.27" fill="#9eff61"/>
<rect x="476.03" y="113.4" width="9.73" height="7.27" fill="#57ffa8"/>
<rect x="484.77" y="113.4" width="9.73" height="7.27" fill="#00d1ff"/>
<rect x="493.5" y="113.4" width="9.73" height="7.27" fill="#57ffa8"/>
<rect x="502.23" y="113.4" width="34.93" height="7.27" fill="#0ffff0"/>
<rect x="545.9" y="113.4" width="8.73" height="6.27" fill="#fff000"/>
<rect x="388.7" y="119.67" width="9.73" height="6.27" fill="#9eff61"/>
<rect x="397.43" y="119.67" width="9.73" height="7.27" fill="#ff4700"/>
<rect x="406.17" y="119.67" width="18.47" height="7.27" fill="#ffb300"/>
<rect x="423.63" y="119.67" width="27.2" height="7.27" fill="#fff000"/>
<rect x="449.83" y="119.67" width="9.73" height="7.27" fill="#57ffa8"/>
<rect x="458.57" y="119.67" width="18.47" height="7.27" fill="#9eff61"/>
<rect x="476.03" y="119.67" width="9.73" height="7.27" fill="#fff000"/>
<rect x="484.77" y="119.67" width="9.73" height="7.27" fill="#9eff61"/>
<rect x="493.5" y="119.67" width="27.2" height="7.27" fill="#0ffff0"/>
<rect x="519.7" y="119.67" width="9.73" height="7.27" fill="#dbff24"/>
<rect x="528.43" y="119.67" width="9.73" height="7.27" fill="#57ffa8"/>
<rect x="537.17" y="119.67" width="8.73" height="7.27" fill="#dbff24"/>
<rect x="563.37" y="119.67" width="8.73" height="6.27" fill="#9eff61"/>
<rect x="397.43" y="125.94" width="9.73" height="7.27" fill="#ff4700"/>
<rect x="406.17" y="125.94" width="9.73" height="7.27" fill="#ff8000"/>
<rect x="414.9" y="125.94" width="9.73" height="7.27" fill="#ffb300"/>
<rect x="423.63" y="125.94" width="18.47" height="7.27" fill="#fff000"/>
<rect x="441.1" y="125.94" width="9.73" height="7.27" fill="#ffb300"/>
<rect x="449.83" y="125.94" width="9.73" height="7.27" fill="#dbff24"/>
<rect x="458.57" y="125.94" width="27.2" height="7.27" fill="#9eff61"/>
<rect x="484.77" y="125.94" width="9.73" height="7.27" fill="#dbff24"/>
<rect x="493.5" y="125.94" width="9.73" height="7.27" fill="#0ffff0"/>
<rect x="502.23" y="125.94" width="18.47" height="7.27" fill="#57ffa8"/>
<rect x="519.7" y="125.94" width="9.73" height="7.27" fill="#dbff24"/>
<rect x="528.43" y="125.94" width="9.73" height="6.27" fill="#9eff61"/>
<rect x="528.43" y="131.71" width="8.73" height="1.5" fill="#9eff61"/>
<rect x="537.17" y="125.94" width="8.73" height="6.27" fill="#9eff61"/>
<rect x="388.7" y="132.21" width="9.73" height="7.27" fill="#ff4700"/>
<rect x="397.43" y="132.21" width="18.47" height="7.27" fill="#ff8000"/>
<rect x="414.9" y="132.21" width="9.73" height="7.27" fill="#ffb300"/>
<rect x="423.63" y="132.21" width="18.47" height="7.27" fill="#fff000"/>
<rect x="441.1" y="132.21" width="9.73" height="7.27" fill="#ff8000"/>
<rect x="449.83" y="132.21" width="9.73" height="7.27" fill="#fff000"/>
<rect x="458.57" y="132.21" width="9.73" height="7.27" fill="#dbff24"/>
<rect x="467.3" y="132.21" width="9.73" height="7.27" fill="#9eff61"/>
<rect x="476.03" y="132.21" width="9.73" height="7.27" fill="#0ffff0"/>
<rect x="484.77" y="132.21" width="9.73" height="7.27" fill="#dbff24"/>
<rect x="493.5" y="132.21" width="9.73" height="7.27" fill="#0ffff0"/>
<rect x="502.23" y="132.21" width="9.73" height="7.27" fill="#57ffa8"/>
<rect x="510.97" y="132.21" width="9.73" height="7.27" fill="#0ffff0"/>
<rect x="519.7" y="132.21" width="17.47" height="7.27" fill="#57ffa8"/>
<rect x="388.7" y="138.48" width="9.73" height="6.27" fill="#ff4700"/>
<rect x="397.43" y="138.48" width="9.73" height="7.27" fill="#bd0000"/>
<rect x="406.17" y="138.48" width="9.73" height="7.27" fill="#ff8000"/>
<rect x="414.9" y="138.48" width="18.47" height="7.27" fill="#ffb300"/>
<rect x="432.37" y="138.48" width="18.47" height="7.27" fill="#dbff24"/>
<rect x="449.83" y="138.48" width="9.73" height="7.27" fill="#fff000"/>
<rect x="458.57" y="138.48" width="9.73" height="7.27" fill="#9eff61"/>
<rect x="467.3" y="138.48" width="9.73" height="7.27" fill="#57ffa8"/>
<rect x="476.03" y="138.48" width="27.2" height="7.27" fill="#dbff24"/>
<rect x="502.23" y="138.48" width="9.73" height="7.27" fill="#fff000"/>
<rect x="510.97" y="138.48" width="9.73" height="7.27" fill="#0ffff0"/>
<rect x="519.7" y="138.48" width="9.73" height="6.27" fill="#57ffa8"/>
<rect x="519.7" y="144.25" width="8.73" height="1.5" fill="#57ffa8"/>
<rect x="528.43" y="138.48" width="8.73" height="6.27" fill="#57ffa8"/>
<rect x="397.43" y="144.75" width="9.73" height="7.27" fill="#850000"/>
<rect x="406.17" y="144.75" width="18.47" height="7.27" fill="#fa0000"/>
<rect x="423.63" y="144.75" width="9.73" height="7.27" fill="#ff8000"/>
<rect x="432.37" y="144.75" width="9.73" height="7.27" fill="#ffb300"/>
<rect x="441.1" y="144.75" width="9.73" height="7.27" fill="#ff8000"/>
<rect x="449.83" y="144.75" width="9.73" height="7.27" fill="#ffb300"/>
<rect x="458.57" y="144.75" width="9.73" height="7.27" fill="#dbff24"/>
<rect x="467.3" y="144.75" width="9.73" height="7.27" fill="#57ffa8"/>
<rect x="476.03" y="144.75" width="18.47" height="7.27" fill="#9eff61"/>
<rect x="493.5" y="144.75" width="9.73" height="7.27" fill="#dbff24"/>
<rect x="502.23" y="144.75" width="9.73" height="7.27" fill="#57ffa8"/>
<rect x="510.97" y="144.75" width="9.73" height="7.27" fill="#0094ff"/>
<rect x="519.7" y="144.75" width="8.73" height="7.27" fill="#0ffff0"/>
<rect x="388.7" y="151.02" width="9.73" height="6.27" fill="#850000"/>
<rect x="397.43" y="151.02" width="9.73" height="7.27" fill="#ff8000"/>
<rect x="406.17" y="151.02" width="9.73" height="7.27" fill="#ffb300"/>
<rect x="414.9" y="151.02" width="9.73" height="7.27" fill="#fa0000"/>
<rect x="423.63" y="151.02" width="9.73" height="7.27" fill="#ff4700"/>
<rect x="432.37" y="151.02" width="9.73" height="7.27" fill="#ff8000"/>
<rect x="441.1" y="151.02" width="9.73" height="7.27" fill="#ff4700"/>
<rect x="449.83" y="151.02" width="9.73" height="7.27" fill="#ffb300"/>
<rect x="458.57" y="151.02" width="9.73" height="7.27" fill="#57ffa8"/>
<rect x="467.3" y="151.02" width="18.47" height="7.27" fill="#fff000"/>
<rect x="484.77" y="151.02" width="9.73" height="7.27" fill="#57ffa8"/>
<rect x="493.5" y="151.02" width="9.73" height="7.27" fill="#dbff24"/>
<rect x="502.23" y="151.02" width="9.73" height="7.27" fill="#0ffff0"/>
<rect x="510.97" y="151.02" width="9.73" height="7.27" fill="#57ffa8"/>
<rect x="519.7" y="151.02" width="8.73" height="7.27" fill="#fff000"/>
<rect x="397.43" y="157.29" width="18.47" height="7.27" fill="#fa0000"/>
<rect x="414.9" y="157.29" width="9.73" height="7.27" fill="#ff4700"/>
<rect x="423.63" y="157.29" width="9.73" height="7.27" fill="#bd0000"/>
<rect x="432.37" y="157.29" width="9.73" height="7.27" fill="#ff8000"/>
<rect x="441.1" y="157.29" width="53.4" height="7.27" fill="#fff000"/>
<rect x="493.5" y="157.29" width="9.73" height="7.27" fill="#9eff61"/>
<rect x="502.23" y="157.29" width="9.73" height="6.27" fill="#57ffa8"/>
<rect x="502.23" y="163.06" width="8.73" height="1.5" fill="#57ffa8"/>
<rect x="510.97" y="157.29" width="9.73" height="6.27" fill="#fff000"/>
<rect x="519.7" y="157.29" width="8.73" height="7.27" fill="#0ffff0"/>
<rect x="397.43" y="163.56" width="9.73" height="6.27" fill="#bd0000"/>
<rect x="406.17" y="163.56" width="9.73" height="7.27" fill="#fa0000"/>
<rect x="414.9" y="163.56" width="9.73" height="7.27" fill="#fff000"/>
<rect x="423.63" y="163.56" width="9.73" height="7.27" fill="#ff4700"/>
<rect x="432.37" y="163.56" width="9.73" height="7.27" fill="#ff8000"/>
<rect x="441.1" y="163.56" width="9.73" height="7.27" fill="#ff4700"/>
<rect x="449.83" y="163.56" width="9.73" height="7.27" fill="#ff8000"/>
<rect x="458.57" y="163.56" width="9.73" height="7.27" fill="#dbff24"/>
<rect x="467.3" y="163.56" width="9.73" height="7.27" fill="#ff8000"/>
<rect x="476.03" y="163.56" width="9.73" height="7.27" fill="#dbff24"/>
<rect x="484.77" y="163.56" width="9.73" height="6.27" fill="#fff000"/>
<rect x="484.77" y="169.33" width="8.73" height="1.5" fill="#fff000"/>
<rect x="493.5" y="163.56" width="9.73" height="6.27" fill="#fa0000"/>
<rect x="502.23" y="163.56" width="8.73" height="7.27" fill="#fff000"/>
<rect x="519.7" y="163.56" width="9.73" height="6.27" fill="#57ffa8"/>
<rect x="528.43" y="163.56" width="8.73" height="6.27" fill="#0094ff"/>
<rect x="406.17" y="169.83" width="9.73" height="6.27" fill="#fa0000"/>
<rect x="414.9" y="169.83" width="9.73" height="6.27" fill="#fff000"/>
<rect x="423.63" y="169.83" width="9.73" height="7.27" fill="#850000"/>
<rect x="432.37" y="169.83" width="18.47" height="7.27" fill="#fa0000"/>
<rect x="449.83" y="169.83" width="9.73" height="7.27" fill="#bd0000"/>
<rect x="458.57" y="169.83" width="9.73" height="7.27" fill="#ff8000"/>
<rect x="467.3" y="169.83" width="9.73" height="7.27" fill="#ffb300"/>
<rect x="476.03" y="169.83" width="9.73" height="7.27" fill="#fff000"/>
<rect x="484.77" y="169.83" width="8.73" height="7.27" fill="#ff4700"/>
<rect x="502.23" y="169.83" width="8.73" height="7.27" fill="#fff000"/>
<rect x="423.63" y="176.1" width="27.2" height="6.27" fill="#850000"/>
<rect x="449.83" y="176.1" width="18.47" height="6.27" fill="#fa0000"/>
<rect x="449.83" y="181.87" width="17.47" height="1.5" fill="#fa0000"/>
<rect x="467.3" y="176.1" width="9.73" height="6.27" fill="#ffb300"/>
<rect x="476.03" y="176.1" width="9.73" height="6.27" fill="#ffb300"/>
<rect x="476.03" y="181.87" width="8.73" height="1.5" fill="#ffb300"/>
<rect x="484.77" y="176.1" width="8.73" height="6.27" fill="#fff000"/>
<rect x="502.23" y="176.1" width="8.73" height="7.27" fill="#ffb300"/>
<rect x="519.7" y="176.1" width="8.73" height="6.27" fill="#ff8000"/>
<rect x="449.83" y="182.37" width="9.73" height="6.27" fill="#fa0000"/>
<rect x="458.57" y="182.37" width="8.73" height="7.27" fill="#fa0000"/>
<rect x="476.03" y="182.37" width="8.73" height="6.27" fill="#ff8000"/>
<rect x="493.5" y="182.37" width="17.47" height="7.27" fill="#fff000"/>
<rect x="528.43" y="182.37" width="8.73" height="7.27" fill="#9eff61"/>
<rect x="458.57" y="188.64" width="8.73" height="7.27" fill="#dbff24"/>
<rect x="493.5" y="188.64" width="9.73" height="7.27" fill="#ff4700"/>
<rect x="502.23" y="188.64" width="9.73" height="7.27" fill="#fff000"/>
<rect x="510.97" y="188.64" width="9.73" height="7.27" fill="#ffb300"/>
<rect x="519.7" y="188.64" width="9.73" height="7.27" fill="#fff000"/>
<rect x="528.43" y="188.64" width="8.73" height="7.27" fill="#9eff61"/>
<rect x="545.9" y="188.64" width="8.73" height="6.27" fill="#00d1ff"/>
<rect x="572.1" y="188.64" width="8.73" height="6.27" fill="#dbff24"/>
<rect x="458.57" y="194.91" width="9.73" height="6.27" fill="#ff4700"/>
<rect x="467.3" y="194.91" width="9.73" height="6.27" fill="#ff8000"/>
<rect x="476.03" y="194.91" width="9.73" height="6.27" fill="#850000"/>
<rect x="484.77" y="194.91" width="9.73" height="6.27" fill="#ff4700"/>
<rect x="493.5" y="194.91" width="9.73" height="6.27" fill="#fa0000"/>
<rect x="502.23" y="194.91" width="9.73" height="6.27" fill="#ff4700"/>
<rect x="510.97" y="194.91" width="9.73" height="6.27" fill="#ff8000"/>
<rect x="519.7" y="194.91" width="9.73" height="6.27" fill="#fff000"/>
<rect x="528.43" y="194.91" width="9.73" height="6.27" fill="#ffb300"/>
<rect x="537.17" y="194.91" width="8.73" height="6.27" fill="#850000"/>
</g>
<g fill="#3a6796">
<circle cx="462.93" cy="198.04" r="1.25"/>
<circle cx="471.67" cy="198.04" r="1.25"/>
<circle cx="480.4" cy="198.04" r="1.25"/>
<circle cx="489.13" cy="198.04" r="1.25"/>
<circle cx="497.87" cy="198.04" r="1.25"/>
<circle cx="506.6" cy="198.04" r="1.25"/>
<circle cx="515.33" cy="198.04" r="1.25"/>
<circle cx="524.07" cy="198.04" r="1.25"/>
<circle cx="532.8" cy="198.04" r="1.25"/>
<circle cx="541.53" cy="198.04" r="1.25"/>
<circle cx="497.87" cy="191.77" r="1.25"/>
<circle cx="506.6" cy="191.77" r="1.25"/>
<circle cx="515.33" cy="191.77" r="1.25"/>
<circle cx="524.07" cy="191.77" r="1.25"/>
<circle cx="576.47" cy="191.77" r="1.25"/>
<circle cx="454.2" cy="185.5" r="1.25"/>
<circle cx="462.93" cy="185.5" r="1.25"/>
<circle cx="480.4" cy="185.5" r="1.25"/>
<circle cx="497.87" cy="185.5" r="1.25"/>
<circle cx="506.6" cy="185.5" r="1.25"/>
<circle cx="428" cy="179.23" r="1.25"/>
<circle cx="436.73" cy="179.23" r="1.25"/>
<circle cx="445.47" cy="179.23" r="1.25"/>
<circle cx="454.2" cy="179.23" r="1.25"/>
<circle cx="462.93" cy="179.23" r="1.25"/>
<circle cx="471.67" cy="179.23" r="1.25"/>
<circle cx="480.4" cy="179.23" r="1.25"/>
<circle cx="489.13" cy="179.23" r="1.25"/>
<circle cx="506.6" cy="179.23" r="1.25"/>
<circle cx="524.07" cy="179.23" r="1.25"/>
<circle cx="410.53" cy="172.96" r="1.25"/>
<circle cx="419.27" cy="172.96" r="1.25"/>
<circle cx="428" cy="172.96" r="1.25"/>
<circle cx="436.73" cy="172.96" r="1.25"/>
<circle cx="445.47" cy="172.96" r="1.25"/>
<circle cx="454.2" cy="172.96" r="1.25"/>
<circle cx="462.93" cy="172.96" r="1.25"/>
<circle cx="471.67" cy="172.96" r="1.25"/>
<circle cx="480.4" cy="172.96" r="1.25"/>
<circle cx="489.13" cy="172.96" r="1.25"/>
<circle cx="506.6" cy="172.96" r="1.25"/>
<circle cx="401.8" cy="166.69" r="1.25"/>
<circle cx="410.53" cy="166.69" r="1.25"/>
<circle cx="419.27" cy="166.69" r="1.25"/>
<circle cx="428" cy="166.69" r="1.25"/>
<circle cx="436.73" cy="166.69" r="1.25"/>
<circle cx="445.47" cy="166.69" r="1.25"/>
<circle cx="454.2" cy="166.69" r="1.25"/>
<circle cx="471.67" cy="166.69" r="1.25"/>
<circle cx="489.13" cy="166.69" r="1.25"/>
<circle cx="497.87" cy="166.69" r="1.25"/>
<circle cx="506.6" cy="166.69" r="1.25"/>
<circle cx="401.8" cy="160.42" r="1.25"/>
<circle cx="410.53" cy="160.42" r="1.25"/>
<circle cx="419.27" cy="160.42" r="1.25"/>
<circle cx="428" cy="160.42" r="1.25"/>
<circle cx="436.73" cy="160.42" r="1.25"/>
<circle cx="445.47" cy="160.42" r="1.25"/>
<circle cx="462.93" cy="160.42" r="1.25"/>
<circle cx="471.67" cy="160.42" r="1.25"/>
<circle cx="480.4" cy="160.42" r="1.25"/>
<circle cx="489.13" cy="160.42" r="1.25"/>
<circle cx="515.33" cy="160.42" r="1.25"/>
<circle cx="393.07" cy="154.16" r="1.25"/>
<circle cx="401.8" cy="154.16" r="1.25"/>
<circle cx="410.53" cy="154.16" r="1.25"/>
<circle cx="419.27" cy="154.16" r="1.25"/>
<circle cx="428" cy="154.16" r="1.25"/>
<circle cx="436.73" cy="154.16" r="1.25"/>
<circle cx="445.47" cy="154.16" r="1.25"/>
<circle cx="454.2" cy="154.16" r="1.25"/>
<circle cx="471.67" cy="154.16" r="1.25"/>
<circle cx="480.4" cy="154.16" r="1.25"/>
<circle cx="524.07" cy="154.16" r="1.25"/>
<circle cx="401.8" cy="147.88" r="1.25"/>
<circle cx="410.53" cy="147.88" r="1.25"/>
<circle cx="419.27" cy="147.88" r="1.25"/>
<circle cx="428" cy="147.88" r="1.25"/>
<circle cx="436.73" cy="147.88" r="1.25"/>
<circle cx="445.47" cy="147.88" r="1.25"/>
<circle cx="454.2" cy="147.88" r="1.25"/>
<circle cx="393.07" cy="141.62" r="1.25"/>
<circle cx="401.8" cy="141.62" r="1.25"/>
<circle cx="410.53" cy="141.62" r="1.25"/>
<circle cx="419.27" cy="141.62" r="1.25"/>
<circle cx="428" cy="141.62" r="1.25"/>
<circle cx="454.2" cy="141.62" r="1.25"/>
<circle cx="506.6" cy="141.62" r="1.25"/>
<circle cx="393.07" cy="135.34" r="1.25"/>
<circle cx="401.8" cy="135.34" r="1.25"/>
<circle cx="410.53" cy="135.34" r="1.25"/>
<circle cx="419.27" cy="135.34" r="1.25"/>
<circle cx="428" cy="135.34" r="1.25"/>
<circle cx="436.73" cy="135.34" r="1.25"/>
<circle cx="445.47" cy="135.34" r="1.25"/>
<circle cx="454.2" cy="135.34" r="1.25"/>
<circle cx="401.8" cy="129.07" r="1.25"/>
<circle cx="410.53" cy="129.07" r="1.25"/>
<circle cx="419.27" cy="129.07" r="1.25"/>
<circle cx="428" cy="129.07" r="1.25"/>
<circle cx="436.73" cy="129.07" r="1.25"/>
<circle cx="445.47" cy="129.07" r="1.25"/>
<circle cx="401.8" cy="122.8" r="1.25"/>
<circle cx="410.53" cy="122.8" r="1.25"/>
<circle cx="419.27" cy="122.8" r="1.25"/>
<circle cx="428" cy="122.8" r="1.25"/>
<circle cx="436.73" cy="122.8" r="1.25"/>
<circle cx="445.47" cy="122.8" r="1.25"/>
<circle cx="401.8" cy="116.53" r="1.25"/>
<circle cx="410.53" cy="116.53" r="1.25"/>
<circle cx="419.27" cy="116.53" r="1.25"/>
<circle cx="428" cy="116.53" r="1.25"/>
<circle cx="436.73" cy="116.53" r="1.25"/>
<circle cx="445.47" cy="116.53" r="1.25"/>
<circle cx="454.2" cy="116.53" r="1.25"/>
<circle cx="462.93" cy="116.53" r="1.25"/>
<circle cx="550.27" cy="116.53" r="1.25"/>
<circle cx="401.8" cy="110.27" r="1.25"/>
<circle cx="410.53" cy="110.27" r="1.25"/>
<circle cx="419.27" cy="110.27" r="1.25"/>
<circle cx="428" cy="110.27" r="1.25"/>
<circle cx="445.47" cy="110.27" r="1.25"/>
<circle cx="401.8" cy="103.99" r="1.25"/>
<circle cx="410.53" cy="103.99" r="1.25"/>
<circle cx="419.27" cy="103.99" r="1.25"/>
<circle cx="428" cy="103.99" r="1.25"/>
<circle cx="436.73" cy="103.99" r="1.25"/>
<circle cx="445.47" cy="103.99" r="1.25"/>
<circle cx="541.53" cy="103.99" r="1.25"/>
<circle cx="410.53" cy="97.72" r="1.25"/>
<circle cx="419.27" cy="97.72" r="1.25"/>
<circle cx="428" cy="97.72" r="1.25"/>
<circle cx="436.73" cy="97.72" r="1.25"/>
<circle cx="445.47" cy="97.72" r="1.25"/>
<circle cx="410.53" cy="91.45" r="1.25"/>
<circle cx="419.27" cy="91.45" r="1.25"/>
<circle cx="428" cy="91.45" r="1.25"/>
<circle cx="541.53" cy="91.45" r="1.25"/>
<circle cx="410.53" cy="85.19" r="1.25"/>
<circle cx="419.27" cy="85.19" r="1.25"/>
<circle cx="428" cy="85.19" r="1.25"/>
<circle cx="428" cy="78.91" r="1.25"/>
<circle cx="410.53" cy="72.65" r="1.25"/>
<circle cx="419.27" cy="72.65" r="1.25"/>
<circle cx="428" cy="72.65" r="1.25"/>
<circle cx="436.73" cy="72.65" r="1.25"/>
<circle cx="515.33" cy="72.65" r="1.25"/>
<circle cx="428" cy="66.38" r="1.25"/>
<circle cx="436.73" cy="66.38" r="1.25"/>
<circle cx="410.53" cy="60.1" r="1.25"/>
<circle cx="428" cy="60.1" r="1.25"/>
<circle cx="436.73" cy="60.1" r="1.25"/>
<circle cx="445.47" cy="60.1" r="1.25"/>
<circle cx="419.27" cy="53.84" r="1.25"/>
<circle cx="506.6" cy="53.84" r="1.25"/>
<circle cx="419.27" cy="41.29" r="1.25"/>
<circle cx="454.2" cy="41.29" r="1.25"/>
<circle cx="428" cy="35.03" r="1.25"/>
<circle cx="436.73" cy="35.03" r="1.25"/>
<circle cx="515.33" cy="28.75" r="1.25"/>
</g>
<g stroke="#2e2e2e" stroke-width="0.9" stroke-dasharray="12.6 7.5" fill="none">
<line x1="449.5" y1="19.35" x2="449.5" y2="151.02"/>
<line x1="449.83" y1="151.5" x2="624.5" y2="151.5"/>
</g>
<g font-size="12.3" fill="#484848">
<text x="362.5" y="225.45" text-anchor="middle">0</text>
<text x="406.17" y="225.45" text-anchor="middle">1.5</text>
<text x="449.83" y="225.45" text-anchor="middle">3</text>
<text x="493.5" y="225.45" text-anchor="middle">4.5</text>
<text x="537.17" y="225.45" text-anchor="middle">6</text>
<text x="580.83" y="225.45" text-anchor="middle">7.5</text>
<text x="624.5" y="225.45" text-anchor="middle">9</text>
<text x="356.5" y="211.95" text-anchor="end">0</text>
<text x="356.5" y="180.6" text-anchor="end">250</text>
<text x="356.5" y="149.25" text-anchor="end">500</text>
<text x="356.5" y="117.9" text-anchor="end">750</text>
<text x="356.5" y="86.55" text-anchor="end">1000</text>
<text x="356.5" y="55.2" text-anchor="end">1250</text>
<text x="356.5" y="23.85" text-anchor="end">1500</text>
</g>
<text x="493.4" y="11.45" text-anchor="middle" font-size="13.65" font-weight="bold" fill="#222">Spring</text>
<g stroke="#666" stroke-width="1" fill="none">
<rect x="53.5" y="246.5" width="261" height="188"/>
<path d="M97.5 434.3v-2.6M97.5 246.4v2.6M140.5 434.3v-2.6M140.5 246.4v2.6M184.5 434.3v-2.6M184.5 246.4v2.6M227.5 434.3v-2.6M227.5 246.4v2.6M271.5 434.3v-2.6M271.5 246.4v2.6M53.55 402.5h2.6M314.5 402.5h-2.6M53.55 371.5h2.6M314.5 371.5h-2.6M53.55 340.5h2.6M314.5 340.5h-2.6M53.55 309.5h2.6M314.5 309.5h-2.6M53.55 277.5h2.6M314.5 277.5h-2.6"/>
</g>
<g>
<rect x="166.63" y="296.51" width="8.7" height="7.26" fill="#00008f"/>
<rect x="192.72" y="296.51" width="8.7" height="6.26" fill="#00008f"/>
<rect x="140.53" y="302.77" width="8.7" height="7.26" fill="#00008f"/>
<rect x="166.63" y="302.77" width="8.7" height="7.26" fill="#00008f"/>
<rect x="184.02" y="302.77" width="8.7" height="7.26" fill="#00008f"/>
<rect x="140.53" y="309.03" width="8.7" height="6.26" fill="#00008f"/>
<rect x="157.93" y="309.03" width="52.19" height="7.26" fill="#00008f"/>
<rect x="114.44" y="315.3" width="8.7" height="7.26" fill="#00008f"/>
<rect x="131.83" y="315.3" width="8.7" height="7.26" fill="#00008f"/>
<rect x="149.23" y="315.3" width="69.59" height="7.26" fill="#00008f"/>
<rect x="114.44" y="321.56" width="104.38" height="7.26" fill="#00008f"/>
<rect x="105.74" y="327.82" width="114.08" height="6.26" fill="#00008f"/>
<rect x="105.74" y="333.59" width="113.08" height="1.5" fill="#00008f"/>
<rect x="218.82" y="327.82" width="8.7" height="6.26" fill="#00008f"/>
<rect x="97.04" y="334.09" width="27.09" height="7.26" fill="#00008f"/>
<rect x="123.14" y="334.09" width="53.19" height="7.26" fill="#0000bd"/>
<rect x="175.33" y="334.09" width="43.49" height="7.26" fill="#00008f"/>
<rect x="97.04" y="340.35" width="18.4" height="7.26" fill="#00008f"/>
<rect x="114.44" y="340.35" width="9.7" height="7.26" fill="#0000ff"/>
<rect x="123.14" y="340.35" width="9.7" height="7.26" fill="#0000bd"/>
<rect x="131.83" y="340.35" width="9.7" height="7.26" fill="#004dff"/>
<rect x="140.53" y="340.35" width="9.7" height="7.26" fill="#0094ff"/>
<rect x="149.23" y="340.35" width="9.7" height="7.26" fill="#0000ff"/>
<rect x="157.93" y="340.35" width="9.7" height="7.26" fill="#004dff"/>
<rect x="166.63" y="340.35" width="9.7" height="7.26" fill="#0000ff"/>
<rect x="175.33" y="340.35" width="9.7" height="7.26" fill="#0000bd"/>
<rect x="184.02" y="340.35" width="52.19" height="7.26" fill="#00008f"/>
<rect x="88.34" y="346.61" width="9.7" height="7.26" fill="#00008f"/>
<rect x="97.04" y="346.61" width="9.7" height="7.26" fill="#0094ff"/>
<rect x="105.74" y="346.61" width="9.7" height="7.26" fill="#004dff"/>
<rect x="114.44" y="346.61" width="9.7" height="7.26" fill="#0094ff"/>
<rect x="123.14" y="346.61" width="27.09" height="7.26" fill="#00d1ff"/>
<rect x="149.23" y="346.61" width="18.4" height="7.26" fill="#0ffff0"/>
<rect x="166.63" y="346.61" width="9.7" height="7.26" fill="#00d1ff"/>
<rect x="175.33" y="346.61" width="9.7" height="7.26" fill="#004dff"/>
<rect x="184.02" y="346.61" width="9.7" height="7.26" fill="#0000ff"/>
<rect x="192.72" y="346.61" width="9.7" height="7.26" fill="#0000bd"/>
<rect x="201.42" y="346.61" width="27.1" height="6.26" fill="#00008f"/>
<rect x="201.42" y="352.38" width="26.1" height="1.5" fill="#00008f"/>
<rect x="227.52" y="346.61" width="17.4" height="6.26" fill="#00008f"/>
<rect x="88.34" y="352.88" width="9.7" height="7.26" fill="#00008f"/>
<rect x="97.04" y="352.88" width="9.7" height="7.26" fill="#0ffff0"/>
<rect x="105.74" y="352.88" width="9.7" height="7.26" fill="#57ffa8"/>
<rect x="114.44" y="352.88" width="9.7" height="7.26" fill="#00d1ff"/>
<rect x="123.14" y="352.88" width="9.7" height="7.26" fill="#ffb300"/>
<rect x="131.83" y="352.88" width="9.7" height="7.26" fill="#9eff61"/>
<rect x="140.53" y="352.88" width="9.7" height="7.26" fill="#0ffff0"/>
<rect x="149.23" y="352.88" width="9.7" height="7.26" fill="#57ffa8"/>
<rect x="157.93" y="352.88" width="9.7" height="7.26" fill="#9eff61"/>
<rect x="166.63" y="352.88" width="9.7" height="7.26" fill="#0094ff"/>
<rect x="175.33" y="352.88" width="9.7" height="7.26" fill="#0ffff0"/>
<rect x="184.02" y="352.88" width="9.7" height="7.26" fill="#004dff"/>
<rect x="192.72" y="352.88" width="9.7" height="7.26" fill="#0000bd"/>
<rect x="201.42" y="352.88" width="18.4" height="6.26" fill="#00008f"/>
<rect x="201.42" y="358.64" width="17.4" height="1.5" fill="#00008f"/>
<rect x="218.82" y="352.88" width="8.7" height="6.26" fill="#00008f"/>
<rect x="79.64" y="359.14" width="18.4" height="7.26" fill="#00008f"/>
<rect x="97.04" y="359.14" width="9.7" height="7.26" fill="#9eff61"/>
<rect x="105.74" y="359.14" width="9.7" height="7.26" fill="#fff000"/>
<rect x="114.44" y="359.14" width="9.7" height="7.26" fill="#ffb300"/>
<rect x="123.14" y="359.14" width="9.7" height="7.26" fill="#ff4700"/>
<rect x="131.83" y="359.14" width="9.7" height="7.26" fill="#fa0000"/>
<rect x="140.53" y="359.14" width="9.7" height="7.26" fill="#ff8000"/>
<rect x="149.23" y="359.14" width="18.4" height="7.26" fill="#dbff24"/>
<rect x="166.63" y="359.14" width="9.7" height="7.26" fill="#9eff61"/>
<rect x="175.33" y="359.14" width="9.7" height="7.26" fill="#0ffff0"/>
<rect x="184.02" y="359.14" width="9.7" height="7.26" fill="#004dff"/>
<rect x="192.72" y="359.14" width="9.7" height="7.26" fill="#0000bd"/>
<rect x="201.42" y="359.14" width="17.4" height="7.26" fill="#00008f"/>
<rect x="79.64" y="365.4" width="9.7" height="7.26" fill="#00008f"/>
<rect x="88.34" y="365.4" width="9.7" height="7.26" fill="#0094ff"/>
<rect x="97.04" y="365.4" width="9.7" height="7.26" fill="#9eff61"/>
<rect x="105.74" y="365.4" width="9.7" height="7.26" fill="#bd0000"/>
<rect x="114.44" y="365.4" width="18.4" height="7.26" fill="#850000"/>
<rect x="131.83" y="365.4" width="9.7" height="7.26" fill="#fa0000"/>
<rect x="140.53" y="365.4" width="9.7" height="7.26" fill="#ff4700"/>
<rect x="149.23" y="365.4" width="9.7" height="7.26" fill="#fff000"/>
<rect x="157.93" y="365.4" width="9.7" height="7.26" fill="#dbff24"/>
<rect x="166.63" y="365.4" width="9.7" height="7.26" fill="#0ffff0"/>
<rect x="175.33" y="365.4" width="9.7" height="7.26" fill="#0094ff"/>
<rect x="184.02" y="365.4" width="9.7" height="7.26" fill="#0000ff"/>
<rect x="192.72" y="365.4" width="9.7" height="6.26" fill="#0000bd"/>
<rect x="192.72" y="371.17" width="8.7" height="1.5" fill="#0000bd"/>
<rect x="201.42" y="365.4" width="17.4" height="6.26" fill="#00008f"/>
<rect x="79.64" y="371.67" width="9.7" height="7.26" fill="#00008f"/>
<rect x="88.34" y="371.67" width="9.7" height="7.26" fill="#57ffa8"/>
<rect x="97.04" y="371.67" width="9.7" height="7.26" fill="#ff8000"/>
<rect x="105.74" y="371.67" width="18.4" height="7.26" fill="#bd0000"/>
<rect x="123.14" y="371.67" width="9.7" height="7.26" fill="#850000"/>
<rect x="131.83" y="371.67" width="9.7" height="7.26" fill="#bd0000"/>
<rect x="140.53" y="371.67" width="9.7" height="7.26" fill="#fa0000"/>
<rect x="149.23" y="371.67" width="9.7" height="7.26" fill="#fff000"/>
<rect x="157.93" y="371.67" width="18.4" height="7.26" fill="#00d1ff"/>
<rect x="175.33" y="371.67" width="9.7" height="7.26" fill="#0000ff"/>
<rect x="184.02" y="371.67" width="17.4" height="7.26" fill="#00008f"/>
<rect x="79.64" y="377.93" width="9.7" height="7.26" fill="#0000ff"/>
<rect x="88.34" y="377.93" width="9.7" height="7.26" fill="#9eff61"/>
<rect x="97.04" y="377.93" width="9.7" height="7.26" fill="#fa0000"/>
<rect x="105.74" y="377.93" width="35.79" height="7.26" fill="#850000"/>
<rect x="140.53" y="377.93" width="9.7" height="7.26" fill="#ff4700"/>
<rect x="149.23" y="377.93" width="9.7" height="7.26" fill="#fff000"/>
<rect x="157.93" y="377.93" width="9.7" height="7.26" fill="#0ffff0"/>
<rect x="166.63" y="377.93" width="9.7" height="7.26" fill="#0000ff"/>
<rect x="175.33" y="377.93" width="43.49" height="7.26" fill="#00008f"/>
<rect x="79.64" y="384.19" width="9.7" height="7.26" fill="#00008f"/>
<rect x="88.34" y="384.19" width="9.7" height="7.26" fill="#dbff24"/>
<rect x="97.04" y="384.19" width="44.49" height="7.26" fill="#850000"/>
<rect x="140.53" y="384.19" width="9.7" height="7.26" fill="#ff4700"/>
<rect x="149.23" y="384.19" width="9.7" height="7.26" fill="#fff000"/>
<rect x="157.93" y="384.19" width="9.7" height="7.26" fill="#004dff"/>
<rect x="166.63" y="384.19" width="9.7" height="7.26" fill="#0000ff"/>
<rect x="175.33" y="384.19" width="35.79" height="6.26" fill="#00008f"/>
<rect x="175.33" y="389.96" width="34.79" height="1.5" fill="#00008f"/>
<rect x="210.12" y="384.19" width="8.7" height="6.26" fill="#00008f"/>
<rect x="79.64" y="390.46" width="9.7" height="7.26" fill="#00008f"/>
<rect x="88.34" y="390.46" width="9.7" height="7.26" fill="#0ffff0"/>
<rect x="97.04" y="390.46" width="44.49" height="7.26" fill="#850000"/>
<rect x="140.53" y="390.46" width="9.7" height="7.26" fill="#ff8000"/>
<rect x="149.23" y="390.46" width="9.7" height="7.26" fill="#9eff61"/>
<rect x="157.93" y="390.46" width="9.7" height="7.26" fill="#0094ff"/>
<rect x="166.63" y="390.46" width="18.4" height="7.26" fill="#0000bd"/>
<rect x="184.02" y="390.46" width="26.1" height="7.26" fill="#00008f"/>
<rect x="79.64" y="396.72" width="9.7" height="7.26" fill="#00008f"/>
<rect x="88.34" y="396.72" width="9.7" height="7.26" fill="#004dff"/>
<rect x="97.04" y="396.72" width="9.7" height="7.26" fill="#9eff61"/>
<rect x="105.74" y="396.72" width="9.7" height="7.26" fill="#bd0000"/>
<rect x="114.44" y="396.72" width="27.09" height="7.26" fill="#850000"/>
<rect x="140.53" y="396.72" width="9.7" height="7.26" fill="#ff4700"/>
<rect x="149.23" y="396.72" width="9.7" height="7.26" fill="#0ffff0"/>
<rect x="157.93" y="396.72" width="9.7" height="7.26" fill="#0094ff"/>
<rect x="166.63" y="396.72" width="9.7" height="7.26" fill="#0000bd"/>
<rect x="175.33" y="396.72" width="9.7" height="7.26" fill="#0000ff"/>
<rect x="184.02" y="396.72" width="18.4" height="6.26" fill="#00008f"/>
<rect x="184.02" y="402.48" width="17.4" height="1.5" fill="#00008f"/>
<rect x="201.42" y="396.72" width="8.7" height="6.26" fill="#00008f"/>
<rect x="79.64" y="402.98" width="9.7" height="7.26" fill="#00008f"/>
<rect x="88.34" y="402.98" width="9.7" height="7.26" fill="#004dff"/>
<rect x="97.04" y="402.98" width="9.7" height="7.26" fill="#57ffa8"/>
<rect x="105.74" y="402.98" width="9.7" height="7.26" fill="#bd0000"/>
<rect x="114.44" y="402.98" width="27.09" height="7.26" fill="#850000"/>
<rect x="140.53" y="402.98" width="9.7" height="7.26" fill="#ff4700"/>
<rect x="149.23" y="402.98" width="9.7" height="7.26" fill="#0ffff0"/>
<rect x="157.93" y="402.98" width="18.4" height="7.26" fill="#0000ff"/>
<rect x="175.33" y="402.98" width="9.7" height="7.26" fill="#0000bd"/>
<rect x="184.02" y="402.98" width="9.7" height="6.26" fill="#00008f"/>
<rect x="184.02" y="408.75" width="8.7" height="1.5" fill="#00008f"/>
<rect x="192.72" y="402.98" width="8.7" height="6.26" fill="#00008f"/>
<rect x="79.64" y="409.25" width="9.7" height="7.26" fill="#00008f"/>
<rect x="88.34" y="409.25" width="9.7" height="7.26" fill="#004dff"/>
<rect x="97.04" y="409.25" width="9.7" height="7.26" fill="#57ffa8"/>
<rect x="105.74" y="409.25" width="9.7" height="7.26" fill="#bd0000"/>
<rect x="114.44" y="409.25" width="18.4" height="7.26" fill="#850000"/>
<rect x="131.83" y="409.25" width="9.7" height="7.26" fill="#bd0000"/>
<rect x="140.53" y="409.25" width="9.7" height="7.26" fill="#ffb300"/>
<rect x="149.23" y="409.25" width="9.7" height="7.26" fill="#0ffff0"/>
<rect x="157.93" y="409.25" width="9.7" height="7.26" fill="#0000ff"/>
<rect x="166.63" y="409.25" width="18.4" height="6.26" fill="#00008f"/>
<rect x="166.63" y="415.01" width="17.4" height="1.5" fill="#00008f"/>
<rect x="184.02" y="409.25" width="8.7" height="6.26" fill="#00008f"/>
<rect x="201.42" y="409.25" width="8.7" height="6.26" fill="#00008f"/>
<rect x="79.64" y="415.51" width="9.7" height="6.26" fill="#00008f"/>
<rect x="88.34" y="415.51" width="9.7" height="7.26" fill="#0000bd"/>
<rect x="97.04" y="415.51" width="9.7" height="7.26" fill="#9eff61"/>
<rect x="105.74" y="415.51" width="9.7" height="7.26" fill="#ff8000"/>
<rect x="114.44" y="415.51" width="18.4" height="7.26" fill="#850000"/>
<rect x="131.83" y="415.51" width="9.7" height="7.26" fill="#ffb300"/>
<rect x="140.53" y="415.51" width="9.7" height="7.26" fill="#dbff24"/>
<rect x="149.23" y="415.51" width="9.7" height="7.26" fill="#0094ff"/>
<rect x="157.93" y="415.51" width="26.09" height="7.26" fill="#00008f"/>
<rect x="192.72" y="415.51" width="8.7" height="6.26" fill="#00008f"/>
<rect x="88.34" y="421.77" width="9.7" height="6.26" fill="#00008f"/>
<rect x="97.04" y="421.77" width="9.7" height="7.26" fill="#004dff"/>
<rect x="105.74" y="421.77" width="9.7" height="7.26" fill="#57ffa8"/>
<rect x="114.44" y="421.77" width="9.7" height="7.26" fill="#fff000"/>
<rect x="123.14" y="421.77" width="9.7" height="6.26" fill="#57ffa8"/>
<rect x="123.14" y="427.54" width="8.7" height="1.5" fill="#57ffa8"/>
<rect x="131.83" y="421.77" width="9.7" height="6.26" fill="#004dff"/>
<rect x="140.53" y="421.77" width="9.7" height="6.26" fill="#0000ff"/>
<rect x="149.23" y="421.77" width="34.79" height="6.26" fill="#00008f"/>
<rect x="97.04" y="428.04" width="34.79" height="6.26" fill="#00008f"/>
</g>
<g stroke="#2e2e2e" stroke-width="0.9" stroke-dasharray="12.6 7.5" fill="none">
<line x1="53.55" y1="365.5" x2="131.83" y2="365.5"/>
<line x1="131.5" y1="365.4" x2="131.5" y2="390.46"/>
<line x1="131.83" y1="390.5" x2="314.5" y2="390.5"/>
</g>
<g font-size="12.3" fill="#484848">
<text x="53.55" y="452.3" text-anchor="middle">0</text>
<text x="97.04" y="452.3" text-anchor="middle">1.5</text>
<text x="140.53" y="452.3" text-anchor="middle">3</text>
<text x="184.02" y="452.3" text-anchor="middle">4.5</text>
<text x="227.52" y="452.3" text-anchor="middle">6</text>
<text x="271.01" y="452.3" text-anchor="middle">7.5</text>
<text x="314.5" y="452.3" text-anchor="middle">9</text>
<text x="48.05" y="438.8" text-anchor="end">0</text>
<text x="48.05" y="407.48" text-anchor="end">250</text>
<text x="48.05" y="376.17" text-anchor="end">500</text>
<text x="48.05" y="344.85" text-anchor="end">750</text>
<text x="48.05" y="313.53" text-anchor="end">1000</text>
<text x="48.05" y="282.22" text-anchor="end">1250</text>
<text x="48.05" y="250.9" text-anchor="end">1500</text>
</g>
<text transform="translate(11.8 340.35) rotate(-90)" text-anchor="middle" font-size="13.85" fill="#484848">Boundary Layer Height (m)</text>
<text x="184.03" y="470.9" text-anchor="middle" font-size="13.9" fill="#484848">Surface Wind Speed (m/s)</text>
<g stroke="#666" stroke-width="1" fill="none">
<rect x="362.5" y="246.5" width="262" height="188"/>
<path d="M406.5 434.3v-2.6M406.5 246.4v2.6M449.5 434.3v-2.6M449.5 246.4v2.6M493.5 434.3v-2.6M493.5 246.4v2.6M537.5 434.3v-2.6M537.5 246.4v2.6M580.5 434.3v-2.6M580.5 246.4v2.6M362.5 402.5h2.6M624.5 402.5h-2.6M362.5 371.5h2.6M624.5 371.5h-2.6M362.5 340.5h2.6M624.5 340.5h-2.6M362.5 309.5h2.6M624.5 309.5h-2.6M362.5 277.5h2.6M624.5 277.5h-2.6"/>
</g>
<g>
<rect x="441.1" y="246.4" width="62.13" height="6.26" fill="#00008f"/>
<rect x="441.1" y="252.16" width="61.13" height="1.5" fill="#00008f"/>
<rect x="502.23" y="246.4" width="8.73" height="6.26" fill="#00008f"/>
<rect x="537.17" y="246.4" width="8.73" height="6.26" fill="#00008f"/>
<rect x="423.63" y="252.66" width="78.6" height="7.26" fill="#00008f"/>
<rect x="510.97" y="252.66" width="8.73" height="7.26" fill="#00008f"/>
<rect x="414.9" y="258.93" width="104.8" height="7.26" fill="#00008f"/>
<rect x="414.9" y="265.19" width="104.8" height="7.26" fill="#00008f"/>
<rect x="414.9" y="271.45" width="105.8" height="6.26" fill="#00008f"/>
<rect x="414.9" y="277.22" width="104.8" height="1.5" fill="#00008f"/>
<rect x="519.7" y="271.45" width="8.73" height="6.26" fill="#00008f"/>
<rect x="414.9" y="277.72" width="18.47" height="7.26" fill="#00008f"/>
<rect x="432.37" y="277.72" width="9.73" height="7.26" fill="#0000bd"/>
<rect x="441.1" y="277.72" width="78.6" height="7.26" fill="#00008f"/>
<rect x="528.43" y="277.72" width="8.73" height="6.26" fill="#00008f"/>
<rect x="406.17" y="283.98" width="27.2" height="7.26" fill="#00008f"/>
<rect x="432.37" y="283.98" width="9.73" height="7.26" fill="#0000ff"/>
<rect x="441.1" y="283.98" width="9.73" height="7.26" fill="#0000bd"/>
<rect x="449.83" y="283.98" width="70.87" height="6.26" fill="#00008f"/>
<rect x="449.83" y="289.74" width="69.87" height="1.5" fill="#00008f"/>
<rect x="519.7" y="283.98" width="8.73" height="6.26" fill="#00008f"/>
<rect x="406.17" y="290.24" width="18.47" height="7.26" fill="#00008f"/>
<rect x="423.63" y="290.24" width="18.47" height="7.26" fill="#0000bd"/>
<rect x="441.1" y="290.24" width="9.73" height="7.26" fill="#0000ff"/>
<rect x="449.83" y="290.24" width="18.47" height="7.26" fill="#0000bd"/>
<rect x="467.3" y="290.24" width="52.4" height="7.26" fill="#00008f"/>
<rect x="406.17" y="296.51" width="9.73" height="7.26" fill="#00008f"/>
<rect x="414.9" y="296.51" width="18.47" height="7.26" fill="#0000bd"/>
<rect x="432.37" y="296.51" width="9.73" height="7.26" fill="#0000ff"/>
<rect x="441.1" y="296.51" width="9.73" height="7.26" fill="#004dff"/>
<rect x="449.83" y="296.51" width="9.73" height="7.26" fill="#0000bd"/>
<rect x="458.57" y="296.51" width="9.73" height="7.26" fill="#0000ff"/>
<rect x="467.3" y="296.51" width="18.47" height="7.26" fill="#0000bd"/>
<rect x="484.77" y="296.51" width="43.67" height="7.26" fill="#00008f"/>
<rect x="537.17" y="296.51" width="8.73" height="6.26" fill="#00008f"/>
<rect x="406.17" y="302.77" width="9.73" height="7.26" fill="#00008f"/>
<rect x="414.9" y="302.77" width="9.73" height="7.26" fill="#0000bd"/>
<rect x="423.63" y="302.77" width="9.73" height="7.26" fill="#004dff"/>
<rect x="432.37" y="302.77" width="9.73" height="7.26" fill="#0000ff"/>
<rect x="441.1" y="302.77" width="9.73" height="7.26" fill="#00d1ff"/>
<rect x="449.83" y="302.77" width="9.73" height="7.26" fill="#004dff"/>
<rect x="458.57" y="302.77" width="27.2" height="7.26" fill="#0000bd"/>
<rect x="484.77" y="302.77" width="43.67" height="7.26" fill="#00008f"/>
<rect x="406.17" y="309.03" width="9.73" height="7.26" fill="#00008f"/>
<rect x="414.9" y="309.03" width="9.73" height="7.26" fill="#0000bd"/>
<rect x="423.63" y="309.03" width="9.73" height="7.26" fill="#0000ff"/>
<rect x="432.37" y="309.03" width="9.73" height="7.26" fill="#004dff"/>
<rect x="441.1" y="309.03" width="9.73" height="7.26" fill="#0094ff"/>
<rect x="449.83" y="309.03" width="18.47" height="7.26" fill="#004dff"/>
<rect x="467.3" y="309.03" width="9.73" height="7.26" fill="#0000ff"/>
<rect x="476.03" y="309.03" width="18.47" height="7.26" fill="#0000bd"/>
<rect x="493.5" y="309.03" width="43.67" height="7.26" fill="#00008f"/>
<rect x="406.17" y="315.3" width="9.73" height="7.26" fill="#00008f"/>
<rect x="414.9" y="315.3" width="9.73" height="7.26" fill="#0000ff"/>
<rect x="423.63" y="315.3" width="9.73" height="7.26" fill="#004dff"/>
<rect x="432.37" y="315.3" width="9.73" height="7.26" fill="#00d1ff"/>
<rect x="441.1" y="315.3" width="9.73" height="7.26" fill="#0ffff0"/>
<rect x="449.83" y="315.3" width="18.47" height="7.26" fill="#0094ff"/>
<rect x="467.3" y="315.3" width="9.73" height="7.26" fill="#004dff"/>
<rect x="476.03" y="315.3" width="9.73" height="7.26" fill="#0000ff"/>
<rect x="484.77" y="315.3" width="27.2" height="7.26" fill="#0000bd"/>
<rect x="510.97" y="315.3" width="34.93" height="7.26" fill="#00008f"/>
<rect x="397.43" y="321.56" width="9.73" height="7.26" fill="#00008f"/>
<rect x="406.17" y="321.56" width="9.73" height="7.26" fill="#0000bd"/>
<rect x="414.9" y="321.56" width="9.73" height="7.26" fill="#0094ff"/>
<rect x="423.63" y="321.56" width="18.47" height="7.26" fill="#0ffff0"/>
<rect x="441.1" y="321.56" width="9.73" height="7.26" fill="#57ffa8"/>
<rect x="449.83" y="321.56" width="9.73" height="7.26" fill="#00d1ff"/>
<rect x="458.57" y="321.56" width="9.73" height="7.26" fill="#0ffff0"/>
<rect x="467.3" y="321.56" width="9.73" height="7.26" fill="#0094ff"/>
<rect x="476.03" y="321.56" width="9.73" height="7.26" fill="#004dff"/>
<rect x="484.77" y="321.56" width="9.73" height="7.26" fill="#0000ff"/>
<rect x="493.5" y="321.56" width="9.73" height="7.26" fill="#0000bd"/>
<rect x="502.23" y="321.56" width="43.67" height="7.26" fill="#00008f"/>
<rect x="563.37" y="321.56" width="8.73" height="6.26" fill="#00008f"/>
<rect x="397.43" y="327.82" width="9.73" height="7.26" fill="#00008f"/>
<rect x="406.17" y="327.82" width="9.73" height="7.26" fill="#004dff"/>
<rect x="414.9" y="327.82" width="9.73" height="7.26" fill="#0ffff0"/>
<rect x="423.63" y="327.82" width="9.73" height="7.26" fill="#9eff61"/>
<rect x="432.37" y="327.82" width="9.73" height="7.26" fill="#dbff24"/>
<rect x="441.1" y="327.82" width="9.73" height="7.26" fill="#9eff61"/>
<rect x="449.83" y="327.82" width="18.47" height="7.26" fill="#0ffff0"/>
<rect x="467.3" y="327.82" width="9.73" height="7.26" fill="#00d1ff"/>
<rect x="476.03" y="327.82" width="9.73" height="7.26" fill="#0094ff"/>
<rect x="484.77" y="327.82" width="9.73" height="7.26" fill="#0000ff"/>
<rect x="493.5" y="327.82" width="18.47" height="7.26" fill="#0000bd"/>
<rect x="510.97" y="327.82" width="34.93" height="7.26" fill="#00008f"/>
<rect x="397.43" y="334.09" width="9.73" height="7.26" fill="#0000bd"/>
<rect x="406.17" y="334.09" width="9.73" height="7.26" fill="#0094ff"/>
<rect x="414.9" y="334.09" width="9.73" height="7.26" fill="#57ffa8"/>
<rect x="423.63" y="334.09" width="18.47" height="7.26" fill="#ff8000"/>
<rect x="441.1" y="334.09" width="9.73" height="7.26" fill="#ff4700"/>
<rect x="449.83" y="334.09" width="9.73" height="7.26" fill="#dbff24"/>
<rect x="458.57" y="334.09" width="9.73" height="7.26" fill="#9eff61"/>
<rect x="467.3" y="334.09" width="18.47" height="7.26" fill="#0ffff0"/>
<rect x="484.77" y="334.09" width="9.73" height="7.26" fill="#0094ff"/>
<rect x="493.5" y="334.09" width="9.73" height="7.26" fill="#0000ff"/>
<rect x="502.23" y="334.09" width="9.73" height="7.26" fill="#0000bd"/>
<rect x="510.97" y="334.09" width="27.2" height="6.26" fill="#00008f"/>
<rect x="510.97" y="339.85" width="26.2" height="1.5" fill="#00008f"/>
<rect x="537.17" y="334.09" width="8.73" height="6.26" fill="#00008f"/>
<rect x="397.43" y="340.35" width="9.73" height="7.26" fill="#00008f"/>
<rect x="406.17" y="340.35" width="9.73" height="7.26" fill="#0ffff0"/>
<rect x="414.9" y="340.35" width="9.73" height="7.26" fill="#ffb300"/>
<rect x="423.63" y="340.35" width="18.47" height="7.26" fill="#850000"/>
<rect x="441.1" y="340.35" width="9.73" height="7.26" fill="#ff4700"/>
<rect x="449.83" y="340.35" width="9.73" height="7.26" fill="#fff000"/>
<rect x="458.57" y="340.35" width="9.73" height="7.26" fill="#ff8000"/>
<rect x="467.3" y="340.35" width="9.73" height="7.26" fill="#57ffa8"/>
<rect x="476.03" y="340.35" width="9.73" height="7.26" fill="#0ffff0"/>
<rect x="484.77" y="340.35" width="9.73" height="7.26" fill="#0094ff"/>
<rect x="493.5" y="340.35" width="9.73" height="7.26" fill="#0000ff"/>
<rect x="502.23" y="340.35" width="9.73" height="7.26" fill="#0000bd"/>
<rect x="510.97" y="340.35" width="26.2" height="7.26" fill="#00008f"/>
<rect x="545.9" y="340.35" width="8.73" height="6.26" fill="#00008f"/>
<rect x="388.7" y="346.61" width="9.73" height="6.26" fill="#00008f"/>
<rect x="397.43" y="346.61" width="9.73" height="7.26" fill="#0000bd"/>
<rect x="406.17" y="346.61" width="9.73" height="7.26" fill="#57ffa8"/>
<rect x="414.9" y="346.61" width="9.73" height="7.26" fill="#fa0000"/>
<rect x="423.63" y="346.61" width="9.73" height="7.26" fill="#850000"/>
<rect x="432.37" y="346.61" width="9.73" height="7.26" fill="#bd0000"/>
<rect x="441.1" y="346.61" width="9.73" height="7.26" fill="#ffb300"/>
<rect x="449.83" y="346.61" width="9.73" height="7.26" fill="#ff4700"/>
<rect x="458.57" y="346.61" width="9.73" height="7.26" fill="#dbff24"/>
<rect x="467.3" y="346.61" width="9.73" height="7.26" fill="#57ffa8"/>
<rect x="476.03" y="346.61" width="18.47" height="7.26" fill="#004dff"/>
<rect x="493.5" y="346.61" width="9.73" height="7.26" fill="#0000ff"/>
<rect x="502.23" y="346.61" width="9.73" height="7.26" fill="#0000bd"/>
<rect x="510.97" y="346.61" width="34.93" height="7.26" fill="#00008f"/>
<rect x="563.37" y="346.61" width="8.73" height="6.26" fill="#00008f"/>
<rect x="397.43" y="352.88" width="9.73" height="7.26" fill="#0000bd"/>
<rect x="406.17" y="352.88" width="9.73" height="7.26" fill="#ffb300"/>
<rect x="414.9" y="352.88" width="9.73" height="7.26" fill="#bd0000"/>
<rect x="423.63" y="352.88" width="9.73" height="7.26" fill="#fa0000"/>
<rect x="432.37" y="352.88" width="9.73" height="7.26" fill="#bd0000"/>
<rect x="441.1" y="352.88" width="9.73" height="7.26" fill="#ffb300"/>
<rect x="449.83" y="352.88" width="9.73" height="7.26" fill="#ff8000"/>
<rect x="458.57" y="352.88" width="9.73" height="7.26" fill="#9eff61"/>
<rect x="467.3" y="352.88" width="9.73" height="7.26" fill="#0ffff0"/>
<rect x="476.03" y="352.88" width="9.73" height="7.26" fill="#00d1ff"/>
<rect x="484.77" y="352.88" width="9.73" height="7.26" fill="#004dff"/>
<rect x="493.5" y="352.88" width="9.73" height="7.26" fill="#0000ff"/>
<rect x="502.23" y="352.88" width="9.73" height="7.26" fill="#0000bd"/>
<rect x="510.97" y="352.88" width="27.2" height="6.26" fill="#00008f"/>
<rect x="510.97" y="358.64" width="26.2" height="1.5" fill="#00008f"/>
<rect x="537.17" y="352.88" width="8.73" height="6.26" fill="#00008f"/>
<rect x="388.7" y="359.14" width="9.73" height="7.26" fill="#00008f"/>
<rect x="397.43" y="359.14" width="9.73" height="7.26" fill="#0000ff"/>
<rect x="406.17" y="359.14" width="9.73" height="7.26" fill="#9eff61"/>
<rect x="414.9" y="359.14" width="9.73" height="7.26" fill="#ff4700"/>
<rect x="423.63" y="359.14" width="9.73" height="7.26" fill="#ffb300"/>
<rect x="432.37" y="359.14" width="27.2" height="7.26" fill="#fff000"/>
<rect x="458.57" y="359.14" width="9.73" height="7.26" fill="#57ffa8"/>
<rect x="467.3" y="359.14" width="9.73" height="7.26" fill="#00d1ff"/>
<rect x="476.03" y="359.14" width="18.47" height="7.26" fill="#004dff"/>
<rect x="493.5" y="359.14" width="9.73" height="7.26" fill="#0000bd"/>
<rect x="502.23" y="359.14" width="34.93" height="7.26" fill="#00008f"/>
<rect x="388.7" y="365.4" width="9.73" height="6.26" fill="#00008f"/>
<rect x="397.43" y="365.4" width="9.73" height="7.26" fill="#004dff"/>
<rect x="406.17" y="365.4" width="18.47" height="7.26" fill="#57ffa8"/>
<rect x="423.63" y="365.4" width="18.47" height="7.26" fill="#dbff24"/>
<rect x="441.1" y="365.4" width="9.73" height="7.26" fill="#9eff61"/>
<rect x="449.83" y="365.4" width="9.73" height="7.26" fill="#57ffa8"/>
<rect x="458.57" y="365.4" width="9.73" height="7.26" fill="#0ffff0"/>
<rect x="467.3" y="365.4" width="9.73" height="7.26" fill="#0094ff"/>
<rect x="476.03" y="365.4" width="9.73" height="7.26" fill="#0000ff"/>
<rect x="484.77" y="365.4" width="18.47" height="7.26" fill="#0000bd"/>
<rect x="502.23" y="365.4" width="27.2" height="6.26" fill="#00008f"/>
<rect x="502.23" y="371.17" width="26.2" height="1.5" fill="#00008f"/>
<rect x="528.43" y="365.4" width="8.73" height="6.26" fill="#00008f"/>
<rect x="397.43" y="371.67" width="9.73" height="7.26" fill="#0000ff"/>
<rect x="406.17" y="371.67" width="9.73" height="7.26" fill="#57ffa8"/>
<rect x="414.9" y="371.67" width="18.47" height="7.26" fill="#0ffff0"/>
<rect x="432.37" y="371.67" width="9.73" height="7.26" fill="#00d1ff"/>
<rect x="441.1" y="371.67" width="9.73" height="7.26" fill="#9eff61"/>
<rect x="449.83" y="371.67" width="9.73" height="7.26" fill="#0ffff0"/>
<rect x="458.57" y="371.67" width="9.73" height="7.26" fill="#0094ff"/>
<rect x="467.3" y="371.67" width="9.73" height="7.26" fill="#004dff"/>
<rect x="476.03" y="371.67" width="9.73" height="7.26" fill="#0000ff"/>
<rect x="484.77" y="371.67" width="9.73" height="7.26" fill="#0000bd"/>
<rect x="493.5" y="371.67" width="34.93" height="7.26" fill="#00008f"/>
<rect x="388.7" y="377.93" width="9.73" height="6.26" fill="#00008f"/>
<rect x="397.43" y="377.93" width="9.73" height="7.26" fill="#00008f"/>
<rect x="406.17" y="377.93" width="9.73" height="7.26" fill="#0000ff"/>
<rect x="414.9" y="377.93" width="9.73" height="7.26" fill="#00d1ff"/>
<rect x="423.63" y="377.93" width="9.73" height="7.26" fill="#0000ff"/>
<rect x="432.37" y="377.93" width="9.73" height="7.26" fill="#00d1ff"/>
<rect x="441.1" y="377.93" width="18.47" height="7.26" fill="#004dff"/>
<rect x="458.57" y="377.93" width="9.73" height="7.26" fill="#0000ff"/>
<rect x="467.3" y="377.93" width="18.47" height="7.26" fill="#0000bd"/>
<rect x="484.77" y="377.93" width="43.67" height="7.26" fill="#00008f"/>
<rect x="397.43" y="384.19" width="18.47" height="7.26" fill="#00008f"/>
<rect x="414.9" y="384.19" width="18.47" height="7.26" fill="#0000ff"/>
<rect x="432.37" y="384.19" width="9.73" height="7.26" fill="#004dff"/>
<rect x="441.1" y="384.19" width="18.47" height="7.26" fill="#0000bd"/>
<rect x="458.57" y="384.19" width="53.4" height="6.26" fill="#00008f"/>
<rect x="458.57" y="389.96" width="52.4" height="1.5" fill="#00008f"/>
<rect x="510.97" y="384.19" width="9.73" height="6.26" fill="#00008f"/>
<rect x="519.7" y="384.19" width="8.73" height="7.26" fill="#00008f"/>
<rect x="397.43" y="390.46" width="9.73" height="6.26" fill="#00008f"/>
<rect x="406.17" y="390.46" width="88.33" height="6.26" fill="#00008f"/>
<rect x="406.17" y="396.22" width="87.33" height="1.5" fill="#00008f"/>
<rect x="493.5" y="390.46" width="9.73" height="6.26" fill="#00008f"/>
<rect x="502.23" y="390.46" width="8.73" height="7.26" fill="#00008f"/>
<rect x="519.7" y="390.46" width="17.47" height="6.26" fill="#00008f"/>
<rect x="406.17" y="396.72" width="18.47" height="6.26" fill="#00008f"/>
<rect x="423.63" y="396.72" width="69.87" height="7.26" fill="#00008f"/>
<rect x="502.23" y="396.72" width="8.73" height="7.26" fill="#00008f"/>
<rect x="423.63" y="402.98" width="27.2" height="6.26" fill="#00008f"/>
<rect x="449.83" y="402.98" width="18.47" height="6.26" fill="#00008f"/>
<rect x="449.83" y="408.75" width="17.47" height="1.5" fill="#00008f"/>
<rect x="467.3" y="402.98" width="9.73" height="6.26" fill="#00008f"/>
<rect x="476.03" y="402.98" width="9.73" height="6.26" fill="#00008f"/>
<rect x="476.03" y="408.75" width="8.73" height="1.5" fill="#00008f"/>
<rect x="484.77" y="402.98" width="8.73" height="6.26" fill="#00008f"/>
<rect x="502.23" y="402.98" width="8.73" height="7.26" fill="#00008f"/>
<rect x="519.7" y="402.98" width="8.73" height="6.26" fill="#00008f"/>
<rect x="449.83" y="409.25" width="9.73" height="6.26" fill="#00008f"/>
<rect x="458.57" y="409.25" width="8.73" height="7.26" fill="#00008f"/>
<rect x="476.03" y="409.25" width="8.73" height="6.26" fill="#00008f"/>
<rect x="493.5" y="409.25" width="17.47" height="7.26" fill="#00008f"/>
<rect x="528.43" y="409.25" width="8.73" height="7.26" fill="#00008f"/>
<rect x="458.57" y="415.51" width="8.73" height="7.26" fill="#00008f"/>
<rect x="493.5" y="415.51" width="43.67" height="7.26" fill="#00008f"/>
<rect x="545.9" y="415.51" width="8.73" height="6.26" fill="#00008f"/>
<rect x="572.1" y="415.51" width="8.73" height="6.26" fill="#00008f"/>
<rect x="458.57" y="421.77" width="87.33" height="6.26" fill="#00008f"/>
</g>
<g stroke="#2e2e2e" stroke-width="0.9" stroke-dasharray="12.6 7.5" fill="none">
<line x1="449.5" y1="246.4" x2="449.5" y2="377.93"/>
<line x1="449.83" y1="378" x2="624.5" y2="378"/>
</g>
<g font-size="12.3" fill="#484848">
<text x="362.5" y="452.3" text-anchor="middle">0</text>
<text x="406.17" y="452.3" text-anchor="middle">1.5</text>
<text x="449.83" y="452.3" text-anchor="middle">3</text>
<text x="493.5" y="452.3" text-anchor="middle">4.5</text>
<text x="537.17" y="452.3" text-anchor="middle">6</text>
<text x="580.83" y="452.3" text-anchor="middle">7.5</text>
<text x="624.5" y="452.3" text-anchor="middle">9</text>
<text x="356.5" y="438.8" text-anchor="end">0</text>
<text x="356.5" y="407.48" text-anchor="end">250</text>
<text x="356.5" y="376.17" text-anchor="end">500</text>
<text x="356.5" y="344.85" text-anchor="end">750</text>
<text x="356.5" y="313.53" text-anchor="end">1000</text>
<text x="356.5" y="282.22" text-anchor="end">1250</text>
<text x="356.5" y="250.9" text-anchor="end">1500</text>
</g>
<text x="493.5" y="470.9" text-anchor="middle" font-size="13.9" fill="#484848">Surface Wind Speed (m/s)</text>
</svg>
</body></html>
